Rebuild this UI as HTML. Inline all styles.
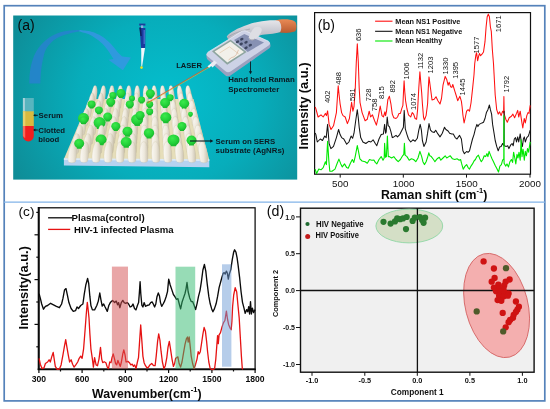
<!DOCTYPE html>
<html><head><meta charset="utf-8"><title>Figure</title>
<style>html,body{margin:0;padding:0;background:#ffffff;}svg{display:block;}text{font-family:"Liberation Sans",sans-serif;}</style>
</head><body>
<svg width="550" height="409" viewBox="0 0 550 409">
<defs>
<radialGradient id="tealbg" gradientUnits="userSpaceOnUse" cx="168" cy="100" r="180" gradientTransform="translate(0,100) scale(1,0.92) translate(0,-100)"><stop offset="0" stop-color="#04bfce"/><stop offset="0.5" stop-color="#07adbb"/><stop offset="1" stop-color="#0f8a94"/></radialGradient>
<linearGradient id="rod" x1="0" x2="1" y1="0" y2="0"><stop offset="0" stop-color="#fbf9f4"/><stop offset="0.55" stop-color="#ede8dc"/><stop offset="1" stop-color="#cbc3b0"/></linearGradient>
<radialGradient id="blob" cx="0.4" cy="0.35" r="0.75"><stop offset="0" stop-color="#3bea4c"/><stop offset="0.6" stop-color="#22d038"/><stop offset="1" stop-color="#14ad28"/></radialGradient>
<linearGradient id="rodshade" x1="0" x2="0" y1="0" y2="1"><stop offset="0.3" stop-color="#a89c78" stop-opacity="0"/><stop offset="1" stop-color="#a89c78" stop-opacity="0.22"/></linearGradient>
<linearGradient id="glove" x1="0" x2="0" y1="0" y2="1"><stop offset="0" stop-color="#e6e6ea"/><stop offset="1" stop-color="#a9abb8"/></linearGradient>
<linearGradient id="skin" x1="0" x2="0" y1="0" y2="1"><stop offset="0" stop-color="#e98a55"/><stop offset="1" stop-color="#b85a30"/></linearGradient>
</defs>
<rect x="0" y="0" width="550" height="409" fill="#ffffff"/>
<rect x="4.2" y="5.7" width="540.6" height="395.2" fill="none" stroke="#5482ba" stroke-width="1.7"/>
<line x1="4" y1="202.1" x2="545" y2="202.1" stroke="#82b3e8" stroke-width="1.1"/>
<g id="panel-a">
<rect x="13.2" y="15.5" width="284" height="164.1" fill="url(#tealbg)"/>
<path d="M29.3,83.5 C29.4,81.5 29.4,75.6 30.0,71.4 C30.6,67.2 31.7,62.5 33.1,58.6 C34.5,54.8 35.9,51.5 38.3,48.3 C40.7,45.0 44.1,41.6 47.3,39.1 C50.5,36.6 53.9,34.6 57.6,33.2 C61.3,31.8 65.7,31.1 69.4,30.6 C73.1,30.1 77.9,30.1 79.6,30.0 L79,31.6 C77.4,31.9 72.7,32.5 69.4,33.4 C66.1,34.3 62.1,35.5 59.1,36.9 C56.1,38.3 53.9,39.9 51.7,42.0 C49.5,44.1 47.4,46.5 45.9,49.4 C44.4,52.3 43.7,55.9 42.9,59.6 C42.1,63.3 41.4,67.4 41.0,71.4 C40.6,75.4 40.4,81.5 40.3,83.5 Z" fill="#2a7fd2" fill-opacity="0.78"/>
<path d="M79.6,30.0 C81.6,30.3 87.7,30.7 91.4,31.7 C95.1,32.7 98.5,34.2 101.7,36.2 C104.9,38.2 107.8,40.8 110.5,43.5 C113.2,46.2 115.8,50.1 117.8,52.3 C119.8,54.5 121.6,55.9 122.4,56.6 L130.9,57.4 L122.9,70.2 L108.5,59.8 L113.6,58.9 C112.3,57.1 108.6,50.9 106.1,47.9 C103.6,44.9 101.4,42.8 98.7,40.6 C96.0,38.4 92.8,36.2 89.9,34.7 C87.0,33.2 82.9,32.4 81.1,31.9 C79.3,31.4 79.3,31.7 79.0,31.6 Z" fill="#3a93e6" fill-opacity="0.8"/>
<g><rect x="139.2" y="23.6" width="6.2" height="2" fill="#1c3d9c"/><rect x="141" y="25.4" width="2.2" height="3" fill="#8fb0e0"/><path d="M139.8,28 L145.4,28 L145.2,48 L141,48 Z" fill="#1b3a9e"/><path d="M139.2,27.5 L141,27.5 L141.8,36 L140.4,36 Z" fill="#101f5c"/><rect x="143.6" y="30" width="1.2" height="14" fill="#4c74d0"/><path d="M141.2,48 L145,48 L142.1,66.5 L141.3,66.5 Z" fill="#f4f6fb"/><circle cx="141.5" cy="67.6" r="1.3" fill="#f2e01c"/></g>
<g><path d="M22.9,98 L33.8,98 L33.8,112 L22.9,112 Z" fill="#b5d5de" fill-opacity="0.45"/><rect x="22.9" y="98" width="2" height="14" fill="#c9dfe6" fill-opacity="0.7"/><rect x="22.9" y="111.3" width="10.9" height="15" fill="#d9b93f"/><rect x="22.9" y="111.3" width="2.4" height="15" fill="#e9d06c"/><path d="M22.9,126 L33.8,126 L33.8,136 A5.45,5.45 0 0 1 22.9,136 Z" fill="#f01e1e"/><path d="M22.9,126 L25.2,126 L25.2,138 A5,5 0 0 1 22.9,136 Z" fill="#f86a5a"/></g>
<line x1="33.8" y1="115.3" x2="37.8" y2="115.3" stroke="#0b1a22" stroke-width="1"/><path d="M33.4,115.3 l2,-1.4 l0,2.8 z" fill="#0b1a22"/>
<line x1="33.8" y1="130" x2="37.8" y2="130" stroke="#0b1a22" stroke-width="1"/><path d="M33.4,130 l2,-1.4 l0,2.8 z" fill="#0b1a22"/>
<text x="38.6" y="117.9" font-size="8" font-weight="bold" fill="#0b1a22" textLength="24.3" lengthAdjust="spacingAndGlyphs">Serum</text>
<text x="38.3" y="133.3" font-size="8" font-weight="bold" fill="#0b1a22" textLength="26.8" lengthAdjust="spacingAndGlyphs">Clotted</text>
<text x="38.3" y="142.3" font-size="8" font-weight="bold" fill="#0b1a22" textLength="21" lengthAdjust="spacingAndGlyphs">blood</text>
<g id="substrate">
<polygon points="89.5,99 193.5,99 209.3,160 63.9,159" fill="#e6deba"/>
<polygon points="63.9,158.7 209.3,159.8 209.3,167.3 63.9,165.6" fill="#b6d2f0"/>
<polygon points="63.9,158.2 209.3,159.2 209.3,161 63.9,160" fill="#dbe9f7"/>
<path d="M91.4,99.5 C91.0,94.6 92.3,89.7 93.7,86.6 C94.4,85.2 95.8,85.2 96.5,86.6 C97.9,89.7 97.1,94.6 96.2,99.5 A2.4,1.1 0 0 1 91.4,99.5 Z" fill="url(#rod)" stroke="#b9ad86" stroke-opacity="0.55" stroke-width="0.35"/>
<path d="M91.4,99.5 C91.0,94.6 92.3,89.7 93.7,86.6 C94.4,85.2 95.8,85.2 96.5,86.6 C97.9,89.7 97.1,94.6 96.2,99.5 A2.4,1.1 0 0 1 91.4,99.5 Z" fill="url(#rodshade)"/>
<path d="M100.1,99.5 C99.7,94.6 100.7,89.7 102.1,86.6 C102.8,85.2 104.2,85.2 104.9,86.6 C106.3,89.7 105.7,94.6 104.9,99.5 A2.4,1.1 0 0 1 100.1,99.5 Z" fill="url(#rod)" stroke="#b9ad86" stroke-opacity="0.55" stroke-width="0.35"/>
<path d="M100.1,99.5 C99.7,94.6 100.7,89.7 102.1,86.6 C102.8,85.2 104.2,85.2 104.9,86.6 C106.3,89.7 105.7,94.6 104.9,99.5 A2.4,1.1 0 0 1 100.1,99.5 Z" fill="url(#rodshade)"/>
<path d="M108.8,99.5 C108.3,94.6 109.2,89.7 110.6,86.6 C111.3,85.2 112.7,85.2 113.4,86.6 C114.8,89.7 114.3,94.6 113.5,99.5 A2.4,1.1 0 0 1 108.8,99.5 Z" fill="url(#rod)" stroke="#b9ad86" stroke-opacity="0.55" stroke-width="0.35"/>
<path d="M108.8,99.5 C108.3,94.6 109.2,89.7 110.6,86.6 C111.3,85.2 112.7,85.2 113.4,86.6 C114.8,89.7 114.3,94.6 113.5,99.5 A2.4,1.1 0 0 1 108.8,99.5 Z" fill="url(#rodshade)"/>
<path d="M117.5,99.5 C116.9,94.6 117.6,89.7 119.0,86.6 C119.7,85.2 121.1,85.2 121.8,86.6 C123.2,89.7 123.0,94.6 122.2,99.5 A2.4,1.1 0 0 1 117.5,99.5 Z" fill="url(#rod)" stroke="#b9ad86" stroke-opacity="0.55" stroke-width="0.35"/>
<path d="M117.5,99.5 C116.9,94.6 117.6,89.7 119.0,86.6 C119.7,85.2 121.1,85.2 121.8,86.6 C123.2,89.7 123.0,94.6 122.2,99.5 A2.4,1.1 0 0 1 117.5,99.5 Z" fill="url(#rodshade)"/>
<path d="M126.1,99.5 C125.6,94.6 126.0,89.7 127.4,86.6 C128.1,85.2 129.5,85.2 130.2,86.6 C131.6,89.7 131.6,94.6 130.9,99.5 A2.4,1.1 0 0 1 126.1,99.5 Z" fill="url(#rod)" stroke="#b9ad86" stroke-opacity="0.55" stroke-width="0.35"/>
<path d="M126.1,99.5 C125.6,94.6 126.0,89.7 127.4,86.6 C128.1,85.2 129.5,85.2 130.2,86.6 C131.6,89.7 131.6,94.6 130.9,99.5 A2.4,1.1 0 0 1 126.1,99.5 Z" fill="url(#rodshade)"/>
<path d="M134.8,99.5 C134.2,94.6 134.4,89.7 135.8,86.6 C136.5,85.2 137.9,85.2 138.6,86.6 C140.0,89.7 140.2,94.6 139.6,99.5 A2.4,1.1 0 0 1 134.8,99.5 Z" fill="url(#rod)" stroke="#b9ad86" stroke-opacity="0.55" stroke-width="0.35"/>
<path d="M134.8,99.5 C134.2,94.6 134.4,89.7 135.8,86.6 C136.5,85.2 137.9,85.2 138.6,86.6 C140.0,89.7 140.2,94.6 139.6,99.5 A2.4,1.1 0 0 1 134.8,99.5 Z" fill="url(#rodshade)"/>
<path d="M143.5,99.5 C142.8,94.6 142.9,89.7 144.3,86.6 C145.0,85.2 146.4,85.2 147.1,86.6 C148.5,89.7 148.9,94.6 148.3,99.5 A2.4,1.1 0 0 1 143.5,99.5 Z" fill="url(#rod)" stroke="#b9ad86" stroke-opacity="0.55" stroke-width="0.35"/>
<path d="M143.5,99.5 C142.8,94.6 142.9,89.7 144.3,86.6 C145.0,85.2 146.4,85.2 147.1,86.6 C148.5,89.7 148.9,94.6 148.3,99.5 A2.4,1.1 0 0 1 143.5,99.5 Z" fill="url(#rodshade)"/>
<path d="M152.2,99.5 C151.4,94.6 151.3,89.7 152.7,86.6 C153.4,85.2 154.8,85.2 155.5,86.6 C156.9,89.7 157.5,94.6 157.0,99.5 A2.4,1.1 0 0 1 152.2,99.5 Z" fill="url(#rod)" stroke="#b9ad86" stroke-opacity="0.55" stroke-width="0.35"/>
<path d="M152.2,99.5 C151.4,94.6 151.3,89.7 152.7,86.6 C153.4,85.2 154.8,85.2 155.5,86.6 C156.9,89.7 157.5,94.6 157.0,99.5 A2.4,1.1 0 0 1 152.2,99.5 Z" fill="url(#rodshade)"/>
<path d="M160.9,99.5 C160.1,94.6 159.7,89.7 161.1,86.6 C161.8,85.2 163.2,85.2 163.9,86.6 C165.3,89.7 166.1,94.6 165.6,99.5 A2.4,1.1 0 0 1 160.9,99.5 Z" fill="url(#rod)" stroke="#b9ad86" stroke-opacity="0.55" stroke-width="0.35"/>
<path d="M160.9,99.5 C160.1,94.6 159.7,89.7 161.1,86.6 C161.8,85.2 163.2,85.2 163.9,86.6 C165.3,89.7 166.1,94.6 165.6,99.5 A2.4,1.1 0 0 1 160.9,99.5 Z" fill="url(#rodshade)"/>
<path d="M169.6,99.5 C168.7,94.6 168.1,89.7 169.5,86.6 C170.2,85.2 171.6,85.2 172.3,86.6 C173.7,89.7 174.8,94.6 174.3,99.5 A2.4,1.1 0 0 1 169.6,99.5 Z" fill="url(#rod)" stroke="#b9ad86" stroke-opacity="0.55" stroke-width="0.35"/>
<path d="M169.6,99.5 C168.7,94.6 168.1,89.7 169.5,86.6 C170.2,85.2 171.6,85.2 172.3,86.6 C173.7,89.7 174.8,94.6 174.3,99.5 A2.4,1.1 0 0 1 169.6,99.5 Z" fill="url(#rodshade)"/>
<path d="M178.2,99.5 C177.3,94.6 176.5,89.7 177.9,86.6 C178.6,85.2 180.0,85.2 180.7,86.6 C182.1,89.7 183.4,94.6 183.0,99.5 A2.4,1.1 0 0 1 178.2,99.5 Z" fill="url(#rod)" stroke="#b9ad86" stroke-opacity="0.55" stroke-width="0.35"/>
<path d="M178.2,99.5 C177.3,94.6 176.5,89.7 177.9,86.6 C178.6,85.2 180.0,85.2 180.7,86.6 C182.1,89.7 183.4,94.6 183.0,99.5 A2.4,1.1 0 0 1 178.2,99.5 Z" fill="url(#rodshade)"/>
<path d="M186.9,99.5 C186.0,94.6 185.0,89.7 186.4,86.6 C187.1,85.2 188.5,85.2 189.2,86.6 C190.6,89.7 192.0,94.6 191.7,99.5 A2.4,1.1 0 0 1 186.9,99.5 Z" fill="url(#rod)" stroke="#b9ad86" stroke-opacity="0.55" stroke-width="0.35"/>
<path d="M186.9,99.5 C186.0,94.6 185.0,89.7 186.4,86.6 C187.1,85.2 188.5,85.2 189.2,86.6 C190.6,89.7 192.0,94.6 191.7,99.5 A2.4,1.1 0 0 1 186.9,99.5 Z" fill="url(#rodshade)"/>
<path d="M88.3,107.8 C87.9,102.6 89.3,97.4 90.8,94.2 C91.5,92.7 93.0,92.7 93.8,94.2 C95.3,97.4 94.4,102.6 93.4,107.8 A2.6,1.2 0 0 1 88.3,107.8 Z" fill="url(#rod)" stroke="#b9ad86" stroke-opacity="0.55" stroke-width="0.35"/>
<path d="M88.3,107.8 C87.9,102.6 89.3,97.4 90.8,94.2 C91.5,92.7 93.0,92.7 93.8,94.2 C95.3,97.4 94.4,102.6 93.4,107.8 A2.6,1.2 0 0 1 88.3,107.8 Z" fill="url(#rodshade)"/>
<path d="M97.4,107.8 C97.0,102.6 98.1,97.4 99.6,94.2 C100.4,92.7 101.9,92.7 102.6,94.2 C104.1,97.4 103.5,102.6 102.5,107.8 A2.6,1.2 0 0 1 97.4,107.8 Z" fill="url(#rod)" stroke="#b9ad86" stroke-opacity="0.55" stroke-width="0.35"/>
<path d="M97.4,107.8 C97.0,102.6 98.1,97.4 99.6,94.2 C100.4,92.7 101.9,92.7 102.6,94.2 C104.1,97.4 103.5,102.6 102.5,107.8 A2.6,1.2 0 0 1 97.4,107.8 Z" fill="url(#rodshade)"/>
<path d="M106.6,107.8 C106.1,102.6 107.0,97.4 108.5,94.2 C109.2,92.7 110.7,92.7 111.5,94.2 C113.0,97.4 112.5,102.6 111.7,107.8 A2.6,1.2 0 0 1 106.6,107.8 Z" fill="url(#rod)" stroke="#b9ad86" stroke-opacity="0.55" stroke-width="0.35"/>
<path d="M106.6,107.8 C106.1,102.6 107.0,97.4 108.5,94.2 C109.2,92.7 110.7,92.7 111.5,94.2 C113.0,97.4 112.5,102.6 111.7,107.8 A2.6,1.2 0 0 1 106.6,107.8 Z" fill="url(#rodshade)"/>
<path d="M115.7,107.8 C115.1,102.6 115.8,97.4 117.3,94.2 C118.1,92.7 119.6,92.7 120.3,94.2 C121.8,97.4 121.6,102.6 120.8,107.8 A2.6,1.2 0 0 1 115.7,107.8 Z" fill="url(#rod)" stroke="#b9ad86" stroke-opacity="0.55" stroke-width="0.35"/>
<path d="M115.7,107.8 C115.1,102.6 115.8,97.4 117.3,94.2 C118.1,92.7 119.6,92.7 120.3,94.2 C121.8,97.4 121.6,102.6 120.8,107.8 A2.6,1.2 0 0 1 115.7,107.8 Z" fill="url(#rodshade)"/>
<path d="M124.8,107.8 C124.2,102.6 124.7,97.4 126.2,94.2 C126.9,92.7 128.4,92.7 129.2,94.2 C130.7,97.4 130.7,102.6 129.9,107.8 A2.6,1.2 0 0 1 124.8,107.8 Z" fill="url(#rod)" stroke="#b9ad86" stroke-opacity="0.55" stroke-width="0.35"/>
<path d="M124.8,107.8 C124.2,102.6 124.7,97.4 126.2,94.2 C126.9,92.7 128.4,92.7 129.2,94.2 C130.7,97.4 130.7,102.6 129.9,107.8 A2.6,1.2 0 0 1 124.8,107.8 Z" fill="url(#rodshade)"/>
<path d="M134.0,107.8 C133.3,102.6 133.5,97.4 135.0,94.2 C135.8,92.7 137.3,92.7 138.0,94.2 C139.5,97.4 139.8,102.6 139.1,107.8 A2.6,1.2 0 0 1 134.0,107.8 Z" fill="url(#rod)" stroke="#b9ad86" stroke-opacity="0.55" stroke-width="0.35"/>
<path d="M134.0,107.8 C133.3,102.6 133.5,97.4 135.0,94.2 C135.8,92.7 137.3,92.7 138.0,94.2 C139.5,97.4 139.8,102.6 139.1,107.8 A2.6,1.2 0 0 1 134.0,107.8 Z" fill="url(#rodshade)"/>
<path d="M143.1,107.8 C142.3,102.6 142.4,97.4 143.9,94.2 C144.7,92.7 146.2,92.7 146.9,94.2 C148.4,97.4 148.8,102.6 148.2,107.8 A2.6,1.2 0 0 1 143.1,107.8 Z" fill="url(#rod)" stroke="#b9ad86" stroke-opacity="0.55" stroke-width="0.35"/>
<path d="M143.1,107.8 C142.3,102.6 142.4,97.4 143.9,94.2 C144.7,92.7 146.2,92.7 146.9,94.2 C148.4,97.4 148.8,102.6 148.2,107.8 A2.6,1.2 0 0 1 143.1,107.8 Z" fill="url(#rodshade)"/>
<path d="M152.2,107.8 C151.4,102.6 151.3,97.4 152.8,94.2 C153.5,92.7 155.0,92.7 155.8,94.2 C157.3,97.4 157.9,102.6 157.3,107.8 A2.6,1.2 0 0 1 152.2,107.8 Z" fill="url(#rod)" stroke="#b9ad86" stroke-opacity="0.55" stroke-width="0.35"/>
<path d="M152.2,107.8 C151.4,102.6 151.3,97.4 152.8,94.2 C153.5,92.7 155.0,92.7 155.8,94.2 C157.3,97.4 157.9,102.6 157.3,107.8 A2.6,1.2 0 0 1 152.2,107.8 Z" fill="url(#rodshade)"/>
<path d="M161.3,107.8 C160.5,102.6 160.1,97.4 161.6,94.2 C162.4,92.7 163.9,92.7 164.6,94.2 C166.1,97.4 167.0,102.6 166.4,107.8 A2.6,1.2 0 0 1 161.3,107.8 Z" fill="url(#rod)" stroke="#b9ad86" stroke-opacity="0.55" stroke-width="0.35"/>
<path d="M161.3,107.8 C160.5,102.6 160.1,97.4 161.6,94.2 C162.4,92.7 163.9,92.7 164.6,94.2 C166.1,97.4 167.0,102.6 166.4,107.8 A2.6,1.2 0 0 1 161.3,107.8 Z" fill="url(#rodshade)"/>
<path d="M170.5,107.8 C169.6,102.6 169.0,97.4 170.5,94.2 C171.2,92.7 172.7,92.7 173.5,94.2 C175.0,97.4 176.0,102.6 175.6,107.8 A2.6,1.2 0 0 1 170.5,107.8 Z" fill="url(#rod)" stroke="#b9ad86" stroke-opacity="0.55" stroke-width="0.35"/>
<path d="M170.5,107.8 C169.6,102.6 169.0,97.4 170.5,94.2 C171.2,92.7 172.7,92.7 173.5,94.2 C175.0,97.4 176.0,102.6 175.6,107.8 A2.6,1.2 0 0 1 170.5,107.8 Z" fill="url(#rodshade)"/>
<path d="M179.6,107.8 C178.6,102.6 177.8,97.4 179.3,94.2 C180.1,92.7 181.6,92.7 182.3,94.2 C183.8,97.4 185.1,102.6 184.7,107.8 A2.6,1.2 0 0 1 179.6,107.8 Z" fill="url(#rod)" stroke="#b9ad86" stroke-opacity="0.55" stroke-width="0.35"/>
<path d="M179.6,107.8 C178.6,102.6 177.8,97.4 179.3,94.2 C180.1,92.7 181.6,92.7 182.3,94.2 C183.8,97.4 185.1,102.6 184.7,107.8 A2.6,1.2 0 0 1 179.6,107.8 Z" fill="url(#rodshade)"/>
<path d="M188.7,107.8 C187.7,102.6 186.7,97.4 188.2,94.2 C188.9,92.7 190.4,92.7 191.2,94.2 C192.7,97.4 194.2,102.6 193.8,107.8 A2.6,1.2 0 0 1 188.7,107.8 Z" fill="url(#rod)" stroke="#b9ad86" stroke-opacity="0.55" stroke-width="0.35"/>
<path d="M188.7,107.8 C187.7,102.6 186.7,97.4 188.2,94.2 C188.9,92.7 190.4,92.7 191.2,94.2 C192.7,97.4 194.2,102.6 193.8,107.8 A2.6,1.2 0 0 1 188.7,107.8 Z" fill="url(#rodshade)"/>
<path d="M118.4,94.5 L118.9,97.9 L122.9,97.9 L123.4,94.5 Z" fill="#1cc231"/>
<ellipse cx="120.9" cy="93.2" rx="4.5" ry="4.2" fill="url(#blob)"/>
<path d="M111.0,96.5 L111.3,99.1 L114.5,99.1 L114.8,96.5 Z" fill="#1cc231"/>
<ellipse cx="112.9" cy="95.4" rx="3.5" ry="3.3" fill="url(#blob)"/>
<path d="M130.3,99.3 L130.7,101.6 L133.3,101.6 L133.7,99.3 Z" fill="#1cc231"/>
<ellipse cx="132.0" cy="98.4" rx="3.0" ry="2.8" fill="url(#blob)"/>
<path d="M147.9,94.8 L148.4,98.2 L152.4,98.2 L152.9,94.8 Z" fill="#1cc231"/>
<ellipse cx="150.4" cy="93.5" rx="4.5" ry="4.2" fill="url(#blob)"/>
<path d="M168.3,98.6 L168.6,101.3 L171.8,101.3 L172.1,98.6 Z" fill="#1cc231"/>
<ellipse cx="170.2" cy="97.6" rx="3.5" ry="3.3" fill="url(#blob)"/>
<path d="M85.2,116.0 C84.8,110.6 86.2,105.2 87.8,101.7 C88.6,100.2 90.2,100.2 91.0,101.7 C92.6,105.2 91.7,110.6 90.7,116.0 A2.7,1.3 0 0 1 85.2,116.0 Z" fill="url(#rod)" stroke="#b9ad86" stroke-opacity="0.55" stroke-width="0.35"/>
<path d="M85.2,116.0 C84.8,110.6 86.2,105.2 87.8,101.7 C88.6,100.2 90.2,100.2 91.0,101.7 C92.6,105.2 91.7,110.6 90.7,116.0 A2.7,1.3 0 0 1 85.2,116.0 Z" fill="url(#rodshade)"/>
<path d="M94.8,116.0 C94.3,110.6 95.5,105.2 97.1,101.7 C97.9,100.2 99.5,100.2 100.3,101.7 C101.9,105.2 101.2,110.6 100.2,116.0 A2.7,1.3 0 0 1 94.8,116.0 Z" fill="url(#rod)" stroke="#b9ad86" stroke-opacity="0.55" stroke-width="0.35"/>
<path d="M94.8,116.0 C94.3,110.6 95.5,105.2 97.1,101.7 C97.9,100.2 99.5,100.2 100.3,101.7 C101.9,105.2 101.2,110.6 100.2,116.0 A2.7,1.3 0 0 1 94.8,116.0 Z" fill="url(#rodshade)"/>
<path d="M104.4,116.0 C103.8,110.6 104.8,105.2 106.4,101.7 C107.2,100.2 108.8,100.2 109.6,101.7 C111.2,105.2 110.7,110.6 109.8,116.0 A2.7,1.3 0 0 1 104.4,116.0 Z" fill="url(#rod)" stroke="#b9ad86" stroke-opacity="0.55" stroke-width="0.35"/>
<path d="M104.4,116.0 C103.8,110.6 104.8,105.2 106.4,101.7 C107.2,100.2 108.8,100.2 109.6,101.7 C111.2,105.2 110.7,110.6 109.8,116.0 A2.7,1.3 0 0 1 104.4,116.0 Z" fill="url(#rodshade)"/>
<path d="M113.9,116.0 C113.3,110.6 114.1,105.2 115.7,101.7 C116.5,100.2 118.1,100.2 118.9,101.7 C120.5,105.2 120.2,110.6 119.4,116.0 A2.7,1.3 0 0 1 113.9,116.0 Z" fill="url(#rod)" stroke="#b9ad86" stroke-opacity="0.55" stroke-width="0.35"/>
<path d="M113.9,116.0 C113.3,110.6 114.1,105.2 115.7,101.7 C116.5,100.2 118.1,100.2 118.9,101.7 C120.5,105.2 120.2,110.6 119.4,116.0 A2.7,1.3 0 0 1 113.9,116.0 Z" fill="url(#rodshade)"/>
<path d="M123.5,116.0 C122.8,110.6 123.4,105.2 125.0,101.7 C125.8,100.2 127.4,100.2 128.2,101.7 C129.8,105.2 129.8,110.6 128.9,116.0 A2.7,1.3 0 0 1 123.5,116.0 Z" fill="url(#rod)" stroke="#b9ad86" stroke-opacity="0.55" stroke-width="0.35"/>
<path d="M123.5,116.0 C122.8,110.6 123.4,105.2 125.0,101.7 C125.8,100.2 127.4,100.2 128.2,101.7 C129.8,105.2 129.8,110.6 128.9,116.0 A2.7,1.3 0 0 1 123.5,116.0 Z" fill="url(#rodshade)"/>
<path d="M133.1,116.0 C132.4,110.6 132.7,105.2 134.3,101.7 C135.1,100.2 136.7,100.2 137.5,101.7 C139.1,105.2 139.3,110.6 138.5,116.0 A2.7,1.3 0 0 1 133.1,116.0 Z" fill="url(#rod)" stroke="#b9ad86" stroke-opacity="0.55" stroke-width="0.35"/>
<path d="M133.1,116.0 C132.4,110.6 132.7,105.2 134.3,101.7 C135.1,100.2 136.7,100.2 137.5,101.7 C139.1,105.2 139.3,110.6 138.5,116.0 A2.7,1.3 0 0 1 133.1,116.0 Z" fill="url(#rodshade)"/>
<path d="M142.7,116.0 C141.9,110.6 141.9,105.2 143.6,101.7 C144.4,100.2 146.0,100.2 146.8,101.7 C148.4,105.2 148.8,110.6 148.1,116.0 A2.7,1.3 0 0 1 142.7,116.0 Z" fill="url(#rod)" stroke="#b9ad86" stroke-opacity="0.55" stroke-width="0.35"/>
<path d="M142.7,116.0 C141.9,110.6 141.9,105.2 143.6,101.7 C144.4,100.2 146.0,100.2 146.8,101.7 C148.4,105.2 148.8,110.6 148.1,116.0 A2.7,1.3 0 0 1 142.7,116.0 Z" fill="url(#rodshade)"/>
<path d="M152.2,116.0 C151.4,110.6 151.2,105.2 152.8,101.7 C153.6,100.2 155.2,100.2 156.0,101.7 C157.6,105.2 158.3,110.6 157.7,116.0 A2.7,1.3 0 0 1 152.2,116.0 Z" fill="url(#rod)" stroke="#b9ad86" stroke-opacity="0.55" stroke-width="0.35"/>
<path d="M152.2,116.0 C151.4,110.6 151.2,105.2 152.8,101.7 C153.6,100.2 155.2,100.2 156.0,101.7 C157.6,105.2 158.3,110.6 157.7,116.0 A2.7,1.3 0 0 1 152.2,116.0 Z" fill="url(#rodshade)"/>
<path d="M161.8,116.0 C160.9,110.6 160.5,105.2 162.1,101.7 C162.9,100.2 164.5,100.2 165.3,101.7 C166.9,105.2 167.8,110.6 167.2,116.0 A2.7,1.3 0 0 1 161.8,116.0 Z" fill="url(#rod)" stroke="#b9ad86" stroke-opacity="0.55" stroke-width="0.35"/>
<path d="M161.8,116.0 C160.9,110.6 160.5,105.2 162.1,101.7 C162.9,100.2 164.5,100.2 165.3,101.7 C166.9,105.2 167.8,110.6 167.2,116.0 A2.7,1.3 0 0 1 161.8,116.0 Z" fill="url(#rodshade)"/>
<path d="M171.4,116.0 C170.4,110.6 169.8,105.2 171.4,101.7 C172.2,100.2 173.8,100.2 174.6,101.7 C176.2,105.2 177.3,110.6 176.8,116.0 A2.7,1.3 0 0 1 171.4,116.0 Z" fill="url(#rod)" stroke="#b9ad86" stroke-opacity="0.55" stroke-width="0.35"/>
<path d="M171.4,116.0 C170.4,110.6 169.8,105.2 171.4,101.7 C172.2,100.2 173.8,100.2 174.6,101.7 C176.2,105.2 177.3,110.6 176.8,116.0 A2.7,1.3 0 0 1 171.4,116.0 Z" fill="url(#rodshade)"/>
<path d="M180.9,116.0 C179.9,110.6 179.1,105.2 180.7,101.7 C181.5,100.2 183.1,100.2 183.9,101.7 C185.5,105.2 186.8,110.6 186.4,116.0 A2.7,1.3 0 0 1 180.9,116.0 Z" fill="url(#rod)" stroke="#b9ad86" stroke-opacity="0.55" stroke-width="0.35"/>
<path d="M180.9,116.0 C179.9,110.6 179.1,105.2 180.7,101.7 C181.5,100.2 183.1,100.2 183.9,101.7 C185.5,105.2 186.8,110.6 186.4,116.0 A2.7,1.3 0 0 1 180.9,116.0 Z" fill="url(#rodshade)"/>
<path d="M190.5,116.0 C189.4,110.6 188.4,105.2 190.0,101.7 C190.8,100.2 192.4,100.2 193.2,101.7 C194.8,105.2 196.4,110.6 196.0,116.0 A2.7,1.3 0 0 1 190.5,116.0 Z" fill="url(#rod)" stroke="#b9ad86" stroke-opacity="0.55" stroke-width="0.35"/>
<path d="M190.5,116.0 C189.4,110.6 188.4,105.2 190.0,101.7 C190.8,100.2 192.4,100.2 193.2,101.7 C194.8,105.2 196.4,110.6 196.0,116.0 A2.7,1.3 0 0 1 190.5,116.0 Z" fill="url(#rodshade)"/>
<path d="M108.2,103.3 L108.7,106.7 L112.7,106.7 L113.2,103.3 Z" fill="#1cc231"/>
<ellipse cx="110.7" cy="102.0" rx="4.5" ry="4.2" fill="url(#blob)"/>
<path d="M127.6,105.4 L128.0,108.4 L131.6,108.4 L132.0,105.4 Z" fill="#1cc231"/>
<ellipse cx="129.8" cy="104.2" rx="4.0" ry="3.7" fill="url(#blob)"/>
<path d="M89.4,105.4 L89.8,108.4 L93.4,108.4 L93.8,105.4 Z" fill="#1cc231"/>
<ellipse cx="91.6" cy="104.2" rx="4.0" ry="3.7" fill="url(#blob)"/>
<path d="M139.7,100.8 L140.0,103.5 L143.2,103.5 L143.5,100.8 Z" fill="#1cc231"/>
<ellipse cx="141.6" cy="99.8" rx="3.5" ry="3.3" fill="url(#blob)"/>
<path d="M162.3,104.3 L162.8,108.0 L167.3,108.0 L167.8,104.3 Z" fill="#1cc231"/>
<ellipse cx="165.1" cy="102.8" rx="5.0" ry="4.7" fill="url(#blob)"/>
<path d="M181.4,105.0 L181.9,108.8 L186.4,108.8 L186.9,105.0 Z" fill="#1cc231"/>
<ellipse cx="184.2" cy="103.5" rx="5.0" ry="4.7" fill="url(#blob)"/>
<path d="M147.8,105.2 L148.1,107.9 L151.3,107.9 L151.6,105.2 Z" fill="#1cc231"/>
<ellipse cx="149.7" cy="104.2" rx="3.5" ry="3.3" fill="url(#blob)"/>
<path d="M81.9,124.8 C81.4,119.1 83.0,113.4 84.7,109.8 C85.5,108.2 87.3,108.2 88.1,109.8 C89.8,113.4 88.8,119.1 87.7,124.8 A2.9,1.4 0 0 1 81.9,124.8 Z" fill="url(#rod)" stroke="#b9ad86" stroke-opacity="0.55" stroke-width="0.35"/>
<path d="M81.9,124.8 C81.4,119.1 83.0,113.4 84.7,109.8 C85.5,108.2 87.3,108.2 88.1,109.8 C89.8,113.4 88.8,119.1 87.7,124.8 A2.9,1.4 0 0 1 81.9,124.8 Z" fill="url(#rodshade)"/>
<path d="M92.0,124.8 C91.4,119.1 92.7,113.4 94.4,109.8 C95.3,108.2 97.0,108.2 97.9,109.8 C99.6,113.4 98.8,119.1 97.8,124.8 A2.9,1.4 0 0 1 92.0,124.8 Z" fill="url(#rod)" stroke="#b9ad86" stroke-opacity="0.55" stroke-width="0.35"/>
<path d="M92.0,124.8 C91.4,119.1 92.7,113.4 94.4,109.8 C95.3,108.2 97.0,108.2 97.9,109.8 C99.6,113.4 98.8,119.1 97.8,124.8 A2.9,1.4 0 0 1 92.0,124.8 Z" fill="url(#rodshade)"/>
<path d="M102.0,124.8 C101.4,119.1 102.5,113.4 104.2,109.8 C105.0,108.2 106.7,108.2 107.6,109.8 C109.3,113.4 108.8,119.1 107.8,124.8 A2.9,1.4 0 0 1 102.0,124.8 Z" fill="url(#rod)" stroke="#b9ad86" stroke-opacity="0.55" stroke-width="0.35"/>
<path d="M102.0,124.8 C101.4,119.1 102.5,113.4 104.2,109.8 C105.0,108.2 106.7,108.2 107.6,109.8 C109.3,113.4 108.8,119.1 107.8,124.8 A2.9,1.4 0 0 1 102.0,124.8 Z" fill="url(#rodshade)"/>
<path d="M112.0,124.8 C111.4,119.1 112.2,113.4 113.9,109.8 C114.8,108.2 116.5,108.2 117.4,109.8 C119.1,113.4 118.8,119.1 117.9,124.8 A2.9,1.4 0 0 1 112.0,124.8 Z" fill="url(#rod)" stroke="#b9ad86" stroke-opacity="0.55" stroke-width="0.35"/>
<path d="M112.0,124.8 C111.4,119.1 112.2,113.4 113.9,109.8 C114.8,108.2 116.5,108.2 117.4,109.8 C119.1,113.4 118.8,119.1 117.9,124.8 A2.9,1.4 0 0 1 112.0,124.8 Z" fill="url(#rodshade)"/>
<path d="M122.1,124.8 C121.4,119.1 122.0,113.4 123.7,109.8 C124.5,108.2 126.2,108.2 127.1,109.8 C128.8,113.4 128.8,119.1 127.9,124.8 A2.9,1.4 0 0 1 122.1,124.8 Z" fill="url(#rod)" stroke="#b9ad86" stroke-opacity="0.55" stroke-width="0.35"/>
<path d="M122.1,124.8 C121.4,119.1 122.0,113.4 123.7,109.8 C124.5,108.2 126.2,108.2 127.1,109.8 C128.8,113.4 128.8,119.1 127.9,124.8 A2.9,1.4 0 0 1 122.1,124.8 Z" fill="url(#rodshade)"/>
<path d="M132.1,124.8 C131.4,119.1 131.7,113.4 133.4,109.8 C134.3,108.2 136.0,108.2 136.8,109.8 C138.6,113.4 138.8,119.1 138.0,124.8 A2.9,1.4 0 0 1 132.1,124.8 Z" fill="url(#rod)" stroke="#b9ad86" stroke-opacity="0.55" stroke-width="0.35"/>
<path d="M132.1,124.8 C131.4,119.1 131.7,113.4 133.4,109.8 C134.3,108.2 136.0,108.2 136.8,109.8 C138.6,113.4 138.8,119.1 138.0,124.8 A2.9,1.4 0 0 1 132.1,124.8 Z" fill="url(#rodshade)"/>
<path d="M142.2,124.8 C141.4,119.1 141.5,113.4 143.2,109.8 C144.0,108.2 145.7,108.2 146.6,109.8 C148.3,113.4 148.7,119.1 148.0,124.8 A2.9,1.4 0 0 1 142.2,124.8 Z" fill="url(#rod)" stroke="#b9ad86" stroke-opacity="0.55" stroke-width="0.35"/>
<path d="M142.2,124.8 C141.4,119.1 141.5,113.4 143.2,109.8 C144.0,108.2 145.7,108.2 146.6,109.8 C148.3,113.4 148.7,119.1 148.0,124.8 A2.9,1.4 0 0 1 142.2,124.8 Z" fill="url(#rodshade)"/>
<path d="M152.2,124.8 C151.4,119.1 151.2,113.4 152.9,109.8 C153.8,108.2 155.5,108.2 156.3,109.8 C158.0,113.4 158.7,119.1 158.0,124.8 A2.9,1.4 0 0 1 152.2,124.8 Z" fill="url(#rod)" stroke="#b9ad86" stroke-opacity="0.55" stroke-width="0.35"/>
<path d="M152.2,124.8 C151.4,119.1 151.2,113.4 152.9,109.8 C153.8,108.2 155.5,108.2 156.3,109.8 C158.0,113.4 158.7,119.1 158.0,124.8 A2.9,1.4 0 0 1 152.2,124.8 Z" fill="url(#rodshade)"/>
<path d="M162.3,124.8 C161.3,119.1 161.0,113.4 162.7,109.8 C163.5,108.2 165.2,108.2 166.1,109.8 C167.8,113.4 168.7,119.1 168.1,124.8 A2.9,1.4 0 0 1 162.3,124.8 Z" fill="url(#rod)" stroke="#b9ad86" stroke-opacity="0.55" stroke-width="0.35"/>
<path d="M162.3,124.8 C161.3,119.1 161.0,113.4 162.7,109.8 C163.5,108.2 165.2,108.2 166.1,109.8 C167.8,113.4 168.7,119.1 168.1,124.8 A2.9,1.4 0 0 1 162.3,124.8 Z" fill="url(#rodshade)"/>
<path d="M172.3,124.8 C171.3,119.1 170.7,113.4 172.4,109.8 C173.3,108.2 175.0,108.2 175.8,109.8 C177.5,113.4 178.7,119.1 178.1,124.8 A2.9,1.4 0 0 1 172.3,124.8 Z" fill="url(#rod)" stroke="#b9ad86" stroke-opacity="0.55" stroke-width="0.35"/>
<path d="M172.3,124.8 C171.3,119.1 170.7,113.4 172.4,109.8 C173.3,108.2 175.0,108.2 175.8,109.8 C177.5,113.4 178.7,119.1 178.1,124.8 A2.9,1.4 0 0 1 172.3,124.8 Z" fill="url(#rodshade)"/>
<path d="M182.4,124.8 C181.3,119.1 180.5,113.4 182.2,109.8 C183.0,108.2 184.7,108.2 185.6,109.8 C187.3,113.4 188.7,119.1 188.2,124.8 A2.9,1.4 0 0 1 182.4,124.8 Z" fill="url(#rod)" stroke="#b9ad86" stroke-opacity="0.55" stroke-width="0.35"/>
<path d="M182.4,124.8 C181.3,119.1 180.5,113.4 182.2,109.8 C183.0,108.2 184.7,108.2 185.6,109.8 C187.3,113.4 188.7,119.1 188.2,124.8 A2.9,1.4 0 0 1 182.4,124.8 Z" fill="url(#rodshade)"/>
<path d="M192.4,124.8 C191.3,119.1 190.2,113.4 191.9,109.8 C192.8,108.2 194.5,108.2 195.3,109.8 C197.0,113.4 198.7,119.1 198.2,124.8 A2.9,1.4 0 0 1 192.4,124.8 Z" fill="url(#rod)" stroke="#b9ad86" stroke-opacity="0.55" stroke-width="0.35"/>
<path d="M192.4,124.8 C191.3,119.1 190.2,113.4 191.9,109.8 C192.8,108.2 194.5,108.2 195.3,109.8 C197.0,113.4 198.7,119.1 198.2,124.8 A2.9,1.4 0 0 1 192.4,124.8 Z" fill="url(#rodshade)"/>
<path d="M96.7,111.3 L97.1,114.3 L100.7,114.3 L101.1,111.3 Z" fill="#1cc231"/>
<ellipse cx="98.9" cy="110.1" rx="4.0" ry="3.7" fill="url(#blob)"/>
<path d="M147.8,112.6 L148.1,115.3 L151.3,115.3 L151.6,112.6 Z" fill="#1cc231"/>
<ellipse cx="149.7" cy="111.6" rx="3.5" ry="3.3" fill="url(#blob)"/>
<path d="M189.1,114.8 L189.4,116.7 L191.6,116.7 L191.9,114.8 Z" fill="#1cc231"/>
<ellipse cx="190.5" cy="114.1" rx="2.5" ry="2.3" fill="url(#blob)"/>
<path d="M78.6,133.6 C78.1,127.6 79.7,121.6 81.6,117.9 C82.5,116.2 84.3,116.2 85.2,117.9 C87.0,121.6 85.9,127.6 84.8,133.6 A3.1,1.5 0 0 1 78.6,133.6 Z" fill="url(#rod)" stroke="#b9ad86" stroke-opacity="0.55" stroke-width="0.35"/>
<path d="M78.6,133.6 C78.1,127.6 79.7,121.6 81.6,117.9 C82.5,116.2 84.3,116.2 85.2,117.9 C87.0,121.6 85.9,127.6 84.8,133.6 A3.1,1.5 0 0 1 78.6,133.6 Z" fill="url(#rodshade)"/>
<path d="M89.1,133.6 C88.6,127.6 89.9,121.6 91.8,117.9 C92.7,116.2 94.5,116.2 95.4,117.9 C97.2,121.6 96.4,127.6 95.3,133.6 A3.1,1.5 0 0 1 89.1,133.6 Z" fill="url(#rod)" stroke="#b9ad86" stroke-opacity="0.55" stroke-width="0.35"/>
<path d="M89.1,133.6 C88.6,127.6 89.9,121.6 91.8,117.9 C92.7,116.2 94.5,116.2 95.4,117.9 C97.2,121.6 96.4,127.6 95.3,133.6 A3.1,1.5 0 0 1 89.1,133.6 Z" fill="url(#rodshade)"/>
<path d="M99.6,133.6 C99.0,127.6 100.2,121.6 102.0,117.9 C102.9,116.2 104.7,116.2 105.6,117.9 C107.4,121.6 106.9,127.6 105.8,133.6 A3.1,1.5 0 0 1 99.6,133.6 Z" fill="url(#rod)" stroke="#b9ad86" stroke-opacity="0.55" stroke-width="0.35"/>
<path d="M99.6,133.6 C99.0,127.6 100.2,121.6 102.0,117.9 C102.9,116.2 104.7,116.2 105.6,117.9 C107.4,121.6 106.9,127.6 105.8,133.6 A3.1,1.5 0 0 1 99.6,133.6 Z" fill="url(#rodshade)"/>
<path d="M110.2,133.6 C109.5,127.6 110.4,121.6 112.2,117.9 C113.1,116.2 114.9,116.2 115.8,117.9 C117.6,121.6 117.3,127.6 116.3,133.6 A3.1,1.5 0 0 1 110.2,133.6 Z" fill="url(#rod)" stroke="#b9ad86" stroke-opacity="0.55" stroke-width="0.35"/>
<path d="M110.2,133.6 C109.5,127.6 110.4,121.6 112.2,117.9 C113.1,116.2 114.9,116.2 115.8,117.9 C117.6,121.6 117.3,127.6 116.3,133.6 A3.1,1.5 0 0 1 110.2,133.6 Z" fill="url(#rodshade)"/>
<path d="M120.7,133.6 C119.9,127.6 120.6,121.6 122.4,117.9 C123.3,116.2 125.1,116.2 126.0,117.9 C127.8,121.6 127.8,127.6 126.9,133.6 A3.1,1.5 0 0 1 120.7,133.6 Z" fill="url(#rod)" stroke="#b9ad86" stroke-opacity="0.55" stroke-width="0.35"/>
<path d="M120.7,133.6 C119.9,127.6 120.6,121.6 122.4,117.9 C123.3,116.2 125.1,116.2 126.0,117.9 C127.8,121.6 127.8,127.6 126.9,133.6 A3.1,1.5 0 0 1 120.7,133.6 Z" fill="url(#rodshade)"/>
<path d="M131.2,133.6 C130.4,127.6 130.8,121.6 132.6,117.9 C133.5,116.2 135.3,116.2 136.2,117.9 C138.0,121.6 138.2,127.6 137.4,133.6 A3.1,1.5 0 0 1 131.2,133.6 Z" fill="url(#rod)" stroke="#b9ad86" stroke-opacity="0.55" stroke-width="0.35"/>
<path d="M131.2,133.6 C130.4,127.6 130.8,121.6 132.6,117.9 C133.5,116.2 135.3,116.2 136.2,117.9 C138.0,121.6 138.2,127.6 137.4,133.6 A3.1,1.5 0 0 1 131.2,133.6 Z" fill="url(#rodshade)"/>
<path d="M141.7,133.6 C140.9,127.6 141.0,121.6 142.8,117.9 C143.7,116.2 145.5,116.2 146.4,117.9 C148.2,121.6 148.7,127.6 147.9,133.6 A3.1,1.5 0 0 1 141.7,133.6 Z" fill="url(#rod)" stroke="#b9ad86" stroke-opacity="0.55" stroke-width="0.35"/>
<path d="M141.7,133.6 C140.9,127.6 141.0,121.6 142.8,117.9 C143.7,116.2 145.5,116.2 146.4,117.9 C148.2,121.6 148.7,127.6 147.9,133.6 A3.1,1.5 0 0 1 141.7,133.6 Z" fill="url(#rodshade)"/>
<path d="M152.3,133.6 C151.3,127.6 151.2,121.6 153.0,117.9 C153.9,116.2 155.7,116.2 156.6,117.9 C158.5,121.6 159.2,127.6 158.4,133.6 A3.1,1.5 0 0 1 152.3,133.6 Z" fill="url(#rod)" stroke="#b9ad86" stroke-opacity="0.55" stroke-width="0.35"/>
<path d="M152.3,133.6 C151.3,127.6 151.2,121.6 153.0,117.9 C153.9,116.2 155.7,116.2 156.6,117.9 C158.5,121.6 159.2,127.6 158.4,133.6 A3.1,1.5 0 0 1 152.3,133.6 Z" fill="url(#rodshade)"/>
<path d="M162.8,133.6 C161.8,127.6 161.4,121.6 163.2,117.9 C164.1,116.2 165.9,116.2 166.8,117.9 C168.7,121.6 169.6,127.6 169.0,133.6 A3.1,1.5 0 0 1 162.8,133.6 Z" fill="url(#rod)" stroke="#b9ad86" stroke-opacity="0.55" stroke-width="0.35"/>
<path d="M162.8,133.6 C161.8,127.6 161.4,121.6 163.2,117.9 C164.1,116.2 165.9,116.2 166.8,117.9 C168.7,121.6 169.6,127.6 169.0,133.6 A3.1,1.5 0 0 1 162.8,133.6 Z" fill="url(#rodshade)"/>
<path d="M173.3,133.6 C172.2,127.6 171.6,121.6 173.4,117.9 C174.3,116.2 176.1,116.2 177.1,117.9 C178.9,121.6 180.1,127.6 179.5,133.6 A3.1,1.5 0 0 1 173.3,133.6 Z" fill="url(#rod)" stroke="#b9ad86" stroke-opacity="0.55" stroke-width="0.35"/>
<path d="M173.3,133.6 C172.2,127.6 171.6,121.6 173.4,117.9 C174.3,116.2 176.1,116.2 177.1,117.9 C178.9,121.6 180.1,127.6 179.5,133.6 A3.1,1.5 0 0 1 173.3,133.6 Z" fill="url(#rodshade)"/>
<path d="M183.8,133.6 C182.7,127.6 181.8,121.6 183.6,117.9 C184.5,116.2 186.4,116.2 187.3,117.9 C189.1,121.6 190.5,127.6 190.0,133.6 A3.1,1.5 0 0 1 183.8,133.6 Z" fill="url(#rod)" stroke="#b9ad86" stroke-opacity="0.55" stroke-width="0.35"/>
<path d="M183.8,133.6 C182.7,127.6 181.8,121.6 183.6,117.9 C184.5,116.2 186.4,116.2 187.3,117.9 C189.1,121.6 190.5,127.6 190.0,133.6 A3.1,1.5 0 0 1 183.8,133.6 Z" fill="url(#rodshade)"/>
<path d="M194.4,133.6 C193.2,127.6 192.0,121.6 193.8,117.9 C194.7,116.2 196.6,116.2 197.5,117.9 C199.3,121.6 201.0,127.6 200.5,133.6 A3.1,1.5 0 0 1 194.4,133.6 Z" fill="url(#rod)" stroke="#b9ad86" stroke-opacity="0.55" stroke-width="0.35"/>
<path d="M194.4,133.6 C193.2,127.6 192.0,121.6 193.8,117.9 C194.7,116.2 196.6,116.2 197.5,117.9 C199.3,121.6 201.0,127.6 200.5,133.6 A3.1,1.5 0 0 1 194.4,133.6 Z" fill="url(#rodshade)"/>
<path d="M80.5,119.9 L81.0,124.0 L86.0,124.0 L86.5,119.9 Z" fill="#1cc231"/>
<ellipse cx="83.5" cy="118.2" rx="5.5" ry="5.1" fill="url(#blob)"/>
<path d="M105.2,118.0 L105.7,121.4 L109.7,121.4 L110.2,118.0 Z" fill="#1cc231"/>
<ellipse cx="107.7" cy="116.7" rx="4.5" ry="4.2" fill="url(#blob)"/>
<path d="M96.3,124.4 L96.9,128.9 L102.3,128.9 L102.9,124.4 Z" fill="#1cc231"/>
<ellipse cx="99.6" cy="122.6" rx="6.0" ry="5.6" fill="url(#blob)"/>
<path d="M133.8,121.4 L134.4,125.9 L139.8,125.9 L140.4,121.4 Z" fill="#1cc231"/>
<ellipse cx="137.1" cy="119.6" rx="6.0" ry="5.6" fill="url(#blob)"/>
<path d="M137.6,116.5 L138.1,119.9 L142.1,119.9 L142.6,116.5 Z" fill="#1cc231"/>
<ellipse cx="140.1" cy="115.2" rx="4.5" ry="4.2" fill="url(#blob)"/>
<path d="M162.8,119.1 L163.3,123.2 L168.3,123.2 L168.8,119.1 Z" fill="#1cc231"/>
<ellipse cx="165.8" cy="117.4" rx="5.5" ry="5.1" fill="url(#blob)"/>
<path d="M81.4,121.2 L81.8,124.2 L85.4,124.2 L85.8,121.2 Z" fill="#1cc231"/>
<ellipse cx="83.6" cy="120.0" rx="4.0" ry="3.7" fill="url(#blob)"/>
<path d="M75.1,142.9 C74.5,136.7 76.3,130.4 78.2,126.4 C79.2,124.7 81.1,124.7 82.1,126.4 C84.0,130.4 82.9,136.7 81.6,142.9 A3.3,1.5 0 0 1 75.1,142.9 Z" fill="url(#rod)" stroke="#b9ad86" stroke-opacity="0.55" stroke-width="0.35"/>
<path d="M75.1,142.9 C74.5,136.7 76.3,130.4 78.2,126.4 C79.2,124.7 81.1,124.7 82.1,126.4 C84.0,130.4 82.9,136.7 81.6,142.9 A3.3,1.5 0 0 1 75.1,142.9 Z" fill="url(#rodshade)"/>
<path d="M86.1,142.9 C85.5,136.7 87.0,130.4 88.9,126.4 C89.9,124.7 91.8,124.7 92.8,126.4 C94.7,130.4 93.8,136.7 92.7,142.9 A3.3,1.5 0 0 1 86.1,142.9 Z" fill="url(#rod)" stroke="#b9ad86" stroke-opacity="0.55" stroke-width="0.35"/>
<path d="M86.1,142.9 C85.5,136.7 87.0,130.4 88.9,126.4 C89.9,124.7 91.8,124.7 92.8,126.4 C94.7,130.4 93.8,136.7 92.7,142.9 A3.3,1.5 0 0 1 86.1,142.9 Z" fill="url(#rodshade)"/>
<path d="M97.1,142.9 C96.5,136.7 97.7,130.4 99.6,126.4 C100.6,124.7 102.5,124.7 103.5,126.4 C105.4,130.4 104.8,136.7 103.7,142.9 A3.3,1.5 0 0 1 97.1,142.9 Z" fill="url(#rod)" stroke="#b9ad86" stroke-opacity="0.55" stroke-width="0.35"/>
<path d="M97.1,142.9 C96.5,136.7 97.7,130.4 99.6,126.4 C100.6,124.7 102.5,124.7 103.5,126.4 C105.4,130.4 104.8,136.7 103.7,142.9 A3.3,1.5 0 0 1 97.1,142.9 Z" fill="url(#rodshade)"/>
<path d="M108.2,142.9 C107.4,136.7 108.4,130.4 110.3,126.4 C111.3,124.7 113.2,124.7 114.2,126.4 C116.1,130.4 115.8,136.7 114.7,142.9 A3.3,1.5 0 0 1 108.2,142.9 Z" fill="url(#rod)" stroke="#b9ad86" stroke-opacity="0.55" stroke-width="0.35"/>
<path d="M108.2,142.9 C107.4,136.7 108.4,130.4 110.3,126.4 C111.3,124.7 113.2,124.7 114.2,126.4 C116.1,130.4 115.8,136.7 114.7,142.9 A3.3,1.5 0 0 1 108.2,142.9 Z" fill="url(#rodshade)"/>
<path d="M119.2,142.9 C118.4,136.7 119.1,130.4 121.0,126.4 C122.0,124.7 123.9,124.7 124.9,126.4 C126.8,130.4 126.7,136.7 125.7,142.9 A3.3,1.5 0 0 1 119.2,142.9 Z" fill="url(#rod)" stroke="#b9ad86" stroke-opacity="0.55" stroke-width="0.35"/>
<path d="M119.2,142.9 C118.4,136.7 119.1,130.4 121.0,126.4 C122.0,124.7 123.9,124.7 124.9,126.4 C126.8,130.4 126.7,136.7 125.7,142.9 A3.3,1.5 0 0 1 119.2,142.9 Z" fill="url(#rodshade)"/>
<path d="M130.2,142.9 C129.4,136.7 129.8,130.4 131.7,126.4 C132.7,124.7 134.6,124.7 135.6,126.4 C137.5,130.4 137.7,136.7 136.8,142.9 A3.3,1.5 0 0 1 130.2,142.9 Z" fill="url(#rod)" stroke="#b9ad86" stroke-opacity="0.55" stroke-width="0.35"/>
<path d="M130.2,142.9 C129.4,136.7 129.8,130.4 131.7,126.4 C132.7,124.7 134.6,124.7 135.6,126.4 C137.5,130.4 137.7,136.7 136.8,142.9 A3.3,1.5 0 0 1 130.2,142.9 Z" fill="url(#rodshade)"/>
<path d="M141.2,142.9 C140.3,136.7 140.5,130.4 142.4,126.4 C143.4,124.7 145.3,124.7 146.3,126.4 C148.2,130.4 148.7,136.7 147.8,142.9 A3.3,1.5 0 0 1 141.2,142.9 Z" fill="url(#rod)" stroke="#b9ad86" stroke-opacity="0.55" stroke-width="0.35"/>
<path d="M141.2,142.9 C140.3,136.7 140.5,130.4 142.4,126.4 C143.4,124.7 145.3,124.7 146.3,126.4 C148.2,130.4 148.7,136.7 147.8,142.9 A3.3,1.5 0 0 1 141.2,142.9 Z" fill="url(#rodshade)"/>
<path d="M152.3,142.9 C151.3,136.7 151.2,130.4 153.1,126.4 C154.1,124.7 156.0,124.7 157.0,126.4 C158.9,130.4 159.6,136.7 158.8,142.9 A3.3,1.5 0 0 1 152.3,142.9 Z" fill="url(#rod)" stroke="#b9ad86" stroke-opacity="0.55" stroke-width="0.35"/>
<path d="M152.3,142.9 C151.3,136.7 151.2,130.4 153.1,126.4 C154.1,124.7 156.0,124.7 157.0,126.4 C158.9,130.4 159.6,136.7 158.8,142.9 A3.3,1.5 0 0 1 152.3,142.9 Z" fill="url(#rodshade)"/>
<path d="M163.3,142.9 C162.2,136.7 161.9,130.4 163.8,126.4 C164.8,124.7 166.7,124.7 167.7,126.4 C169.6,130.4 170.6,136.7 169.9,142.9 A3.3,1.5 0 0 1 163.3,142.9 Z" fill="url(#rod)" stroke="#b9ad86" stroke-opacity="0.55" stroke-width="0.35"/>
<path d="M163.3,142.9 C162.2,136.7 161.9,130.4 163.8,126.4 C164.8,124.7 166.7,124.7 167.7,126.4 C169.6,130.4 170.6,136.7 169.9,142.9 A3.3,1.5 0 0 1 163.3,142.9 Z" fill="url(#rodshade)"/>
<path d="M174.3,142.9 C173.2,136.7 172.6,130.4 174.5,126.4 C175.5,124.7 177.4,124.7 178.4,126.4 C180.3,130.4 181.5,136.7 180.9,142.9 A3.3,1.5 0 0 1 174.3,142.9 Z" fill="url(#rod)" stroke="#b9ad86" stroke-opacity="0.55" stroke-width="0.35"/>
<path d="M174.3,142.9 C173.2,136.7 172.6,130.4 174.5,126.4 C175.5,124.7 177.4,124.7 178.4,126.4 C180.3,130.4 181.5,136.7 180.9,142.9 A3.3,1.5 0 0 1 174.3,142.9 Z" fill="url(#rodshade)"/>
<path d="M185.4,142.9 C184.2,136.7 183.3,130.4 185.2,126.4 C186.2,124.7 188.1,124.7 189.0,126.4 C191.0,130.4 192.5,136.7 191.9,142.9 A3.3,1.5 0 0 1 185.4,142.9 Z" fill="url(#rod)" stroke="#b9ad86" stroke-opacity="0.55" stroke-width="0.35"/>
<path d="M185.4,142.9 C184.2,136.7 183.3,130.4 185.2,126.4 C186.2,124.7 188.1,124.7 189.0,126.4 C191.0,130.4 192.5,136.7 191.9,142.9 A3.3,1.5 0 0 1 185.4,142.9 Z" fill="url(#rodshade)"/>
<path d="M196.4,142.9 C195.1,136.7 194.0,130.4 195.9,126.4 C196.9,124.7 198.8,124.7 199.7,126.4 C201.7,130.4 203.5,136.7 202.9,142.9 A3.3,1.5 0 0 1 196.4,142.9 Z" fill="url(#rod)" stroke="#b9ad86" stroke-opacity="0.55" stroke-width="0.35"/>
<path d="M196.4,142.9 C195.1,136.7 194.0,130.4 195.9,126.4 C196.9,124.7 198.8,124.7 199.7,126.4 C201.7,130.4 203.5,136.7 202.9,142.9 A3.3,1.5 0 0 1 196.4,142.9 Z" fill="url(#rodshade)"/>
<path d="M113.3,127.6 L113.8,131.0 L117.8,131.0 L118.3,127.6 Z" fill="#1cc231"/>
<ellipse cx="115.8" cy="126.3" rx="4.5" ry="4.2" fill="url(#blob)"/>
<path d="M179.5,127.6 L180.0,131.0 L184.0,131.0 L184.5,127.6 Z" fill="#1cc231"/>
<ellipse cx="182.0" cy="126.3" rx="4.5" ry="4.2" fill="url(#blob)"/>
<path d="M71.6,152.3 C71.0,145.7 72.8,139.1 74.9,135.0 C75.9,133.2 77.9,133.2 79.0,135.0 C81.0,139.1 79.8,145.7 78.5,152.3 A3.5,1.6 0 0 1 71.6,152.3 Z" fill="url(#rod)" stroke="#b9ad86" stroke-opacity="0.55" stroke-width="0.35"/>
<path d="M71.6,152.3 C71.0,145.7 72.8,139.1 74.9,135.0 C75.9,133.2 77.9,133.2 79.0,135.0 C81.0,139.1 79.8,145.7 78.5,152.3 A3.5,1.6 0 0 1 71.6,152.3 Z" fill="url(#rodshade)"/>
<path d="M83.1,152.3 C82.5,145.7 84.0,139.1 86.1,135.0 C87.1,133.2 89.1,133.2 90.1,135.0 C92.2,139.1 91.3,145.7 90.0,152.3 A3.5,1.6 0 0 1 83.1,152.3 Z" fill="url(#rod)" stroke="#b9ad86" stroke-opacity="0.55" stroke-width="0.35"/>
<path d="M83.1,152.3 C82.5,145.7 84.0,139.1 86.1,135.0 C87.1,133.2 89.1,133.2 90.1,135.0 C92.2,139.1 91.3,145.7 90.0,152.3 A3.5,1.6 0 0 1 83.1,152.3 Z" fill="url(#rodshade)"/>
<path d="M94.6,152.3 C93.9,145.7 95.2,139.1 97.3,135.0 C98.3,133.2 100.3,133.2 101.3,135.0 C103.4,139.1 102.7,145.7 101.6,152.3 A3.5,1.6 0 0 1 94.6,152.3 Z" fill="url(#rod)" stroke="#b9ad86" stroke-opacity="0.55" stroke-width="0.35"/>
<path d="M94.6,152.3 C93.9,145.7 95.2,139.1 97.3,135.0 C98.3,133.2 100.3,133.2 101.3,135.0 C103.4,139.1 102.7,145.7 101.6,152.3 A3.5,1.6 0 0 1 94.6,152.3 Z" fill="url(#rodshade)"/>
<path d="M106.2,152.3 C105.4,145.7 106.4,139.1 108.4,135.0 C109.5,133.2 111.5,133.2 112.5,135.0 C114.6,139.1 114.2,145.7 113.1,152.3 A3.5,1.6 0 0 1 106.2,152.3 Z" fill="url(#rod)" stroke="#b9ad86" stroke-opacity="0.55" stroke-width="0.35"/>
<path d="M106.2,152.3 C105.4,145.7 106.4,139.1 108.4,135.0 C109.5,133.2 111.5,133.2 112.5,135.0 C114.6,139.1 114.2,145.7 113.1,152.3 A3.5,1.6 0 0 1 106.2,152.3 Z" fill="url(#rodshade)"/>
<path d="M117.7,152.3 C116.9,145.7 117.6,139.1 119.6,135.0 C120.6,133.2 122.7,133.2 123.7,135.0 C125.8,139.1 125.7,145.7 124.6,152.3 A3.5,1.6 0 0 1 117.7,152.3 Z" fill="url(#rod)" stroke="#b9ad86" stroke-opacity="0.55" stroke-width="0.35"/>
<path d="M117.7,152.3 C116.9,145.7 117.6,139.1 119.6,135.0 C120.6,133.2 122.7,133.2 123.7,135.0 C125.8,139.1 125.7,145.7 124.6,152.3 A3.5,1.6 0 0 1 117.7,152.3 Z" fill="url(#rodshade)"/>
<path d="M129.2,152.3 C128.3,145.7 128.8,139.1 130.8,135.0 C131.8,133.2 133.9,133.2 134.9,135.0 C136.9,139.1 137.1,145.7 136.2,152.3 A3.5,1.6 0 0 1 129.2,152.3 Z" fill="url(#rod)" stroke="#b9ad86" stroke-opacity="0.55" stroke-width="0.35"/>
<path d="M129.2,152.3 C128.3,145.7 128.8,139.1 130.8,135.0 C131.8,133.2 133.9,133.2 134.9,135.0 C136.9,139.1 137.1,145.7 136.2,152.3 A3.5,1.6 0 0 1 129.2,152.3 Z" fill="url(#rodshade)"/>
<path d="M140.8,152.3 C139.8,145.7 140.0,139.1 142.0,135.0 C143.0,133.2 145.1,133.2 146.1,135.0 C148.1,139.1 148.6,145.7 147.7,152.3 A3.5,1.6 0 0 1 140.8,152.3 Z" fill="url(#rod)" stroke="#b9ad86" stroke-opacity="0.55" stroke-width="0.35"/>
<path d="M140.8,152.3 C139.8,145.7 140.0,139.1 142.0,135.0 C143.0,133.2 145.1,133.2 146.1,135.0 C148.1,139.1 148.6,145.7 147.7,152.3 A3.5,1.6 0 0 1 140.8,152.3 Z" fill="url(#rodshade)"/>
<path d="M152.3,152.3 C151.2,145.7 151.1,139.1 153.2,135.0 C154.2,133.2 156.3,133.2 157.3,135.0 C159.3,139.1 160.1,145.7 159.2,152.3 A3.5,1.6 0 0 1 152.3,152.3 Z" fill="url(#rod)" stroke="#b9ad86" stroke-opacity="0.55" stroke-width="0.35"/>
<path d="M152.3,152.3 C151.2,145.7 151.1,139.1 153.2,135.0 C154.2,133.2 156.3,133.2 157.3,135.0 C159.3,139.1 160.1,145.7 159.2,152.3 A3.5,1.6 0 0 1 152.3,152.3 Z" fill="url(#rodshade)"/>
<path d="M163.8,152.3 C162.7,145.7 162.3,139.1 164.4,135.0 C165.4,133.2 167.4,133.2 168.5,135.0 C170.5,139.1 171.5,145.7 170.8,152.3 A3.5,1.6 0 0 1 163.8,152.3 Z" fill="url(#rod)" stroke="#b9ad86" stroke-opacity="0.55" stroke-width="0.35"/>
<path d="M163.8,152.3 C162.7,145.7 162.3,139.1 164.4,135.0 C165.4,133.2 167.4,133.2 168.5,135.0 C170.5,139.1 171.5,145.7 170.8,152.3 A3.5,1.6 0 0 1 163.8,152.3 Z" fill="url(#rodshade)"/>
<path d="M175.4,152.3 C174.2,145.7 173.5,139.1 175.6,135.0 C176.6,133.2 178.6,133.2 179.7,135.0 C181.7,139.1 183.0,145.7 182.3,152.3 A3.5,1.6 0 0 1 175.4,152.3 Z" fill="url(#rod)" stroke="#b9ad86" stroke-opacity="0.55" stroke-width="0.35"/>
<path d="M175.4,152.3 C174.2,145.7 173.5,139.1 175.6,135.0 C176.6,133.2 178.6,133.2 179.7,135.0 C181.7,139.1 183.0,145.7 182.3,152.3 A3.5,1.6 0 0 1 175.4,152.3 Z" fill="url(#rodshade)"/>
<path d="M186.9,152.3 C185.6,145.7 184.7,139.1 186.8,135.0 C187.8,133.2 189.8,133.2 190.8,135.0 C192.9,139.1 194.5,145.7 193.8,152.3 A3.5,1.6 0 0 1 186.9,152.3 Z" fill="url(#rod)" stroke="#b9ad86" stroke-opacity="0.55" stroke-width="0.35"/>
<path d="M186.9,152.3 C185.6,145.7 184.7,139.1 186.8,135.0 C187.8,133.2 189.8,133.2 190.8,135.0 C192.9,139.1 194.5,145.7 193.8,152.3 A3.5,1.6 0 0 1 186.9,152.3 Z" fill="url(#rodshade)"/>
<path d="M198.4,152.3 C197.1,145.7 195.9,139.1 197.9,135.0 C199.0,133.2 201.0,133.2 202.0,135.0 C204.1,139.1 205.9,145.7 205.4,152.3 A3.5,1.6 0 0 1 198.4,152.3 Z" fill="url(#rod)" stroke="#b9ad86" stroke-opacity="0.55" stroke-width="0.35"/>
<path d="M198.4,152.3 C197.1,145.7 195.9,139.1 197.9,135.0 C199.0,133.2 201.0,133.2 202.0,135.0 C204.1,139.1 205.9,145.7 205.4,152.3 A3.5,1.6 0 0 1 198.4,152.3 Z" fill="url(#rodshade)"/>
<path d="M124.8,132.9 L125.2,136.7 L129.8,136.7 L130.2,132.9 Z" fill="#1cc231"/>
<ellipse cx="127.5" cy="131.4" rx="5.0" ry="4.7" fill="url(#blob)"/>
<path d="M98.1,141.2 L98.6,145.3 L103.6,145.3 L104.1,141.2 Z" fill="#1cc231"/>
<ellipse cx="101.1" cy="139.5" rx="5.5" ry="5.1" fill="url(#blob)"/>
<path d="M146.1,134.6 L146.7,138.5 L151.3,138.5 L151.9,134.6 Z" fill="#1cc231"/>
<ellipse cx="149.0" cy="133.0" rx="5.2" ry="4.8" fill="url(#blob)"/>
<path d="M68.2,161.1 C67.7,154.2 69.6,147.4 71.7,143.1 C72.8,141.2 75.0,141.2 76.0,143.1 C78.2,147.4 76.9,154.2 75.6,161.1 A3.7,1.7 0 0 1 68.2,161.1 Z" fill="url(#rod)" stroke="#b9ad86" stroke-opacity="0.55" stroke-width="0.35"/>
<path d="M80.3,161.1 C79.6,154.2 81.2,147.4 83.4,143.1 C84.5,141.2 86.6,141.2 87.7,143.1 C89.8,147.4 88.9,154.2 87.6,161.1 A3.7,1.7 0 0 1 80.3,161.1 Z" fill="url(#rod)" stroke="#b9ad86" stroke-opacity="0.55" stroke-width="0.35"/>
<path d="M92.3,161.1 C91.5,154.2 92.9,147.4 95.0,143.1 C96.1,141.2 98.3,141.2 99.3,143.1 C101.5,147.4 100.8,154.2 99.6,161.1 A3.7,1.7 0 0 1 92.3,161.1 Z" fill="url(#rod)" stroke="#b9ad86" stroke-opacity="0.55" stroke-width="0.35"/>
<path d="M104.3,161.1 C103.5,154.2 104.5,147.4 106.7,143.1 C107.8,141.2 109.9,141.2 111.0,143.1 C113.1,147.4 112.8,154.2 111.6,161.1 A3.7,1.7 0 0 1 104.3,161.1 Z" fill="url(#rod)" stroke="#b9ad86" stroke-opacity="0.55" stroke-width="0.35"/>
<path d="M116.3,161.1 C115.4,154.2 116.2,147.4 118.3,143.1 C119.4,141.2 121.6,141.2 122.6,143.1 C124.8,147.4 124.7,154.2 123.6,161.1 A3.7,1.7 0 0 1 116.3,161.1 Z" fill="url(#rod)" stroke="#b9ad86" stroke-opacity="0.55" stroke-width="0.35"/>
<path d="M128.3,161.1 C127.3,154.2 127.8,147.4 130.0,143.1 C131.1,141.2 133.2,141.2 134.3,143.1 C136.4,147.4 136.6,154.2 135.6,161.1 A3.7,1.7 0 0 1 128.3,161.1 Z" fill="url(#rod)" stroke="#b9ad86" stroke-opacity="0.55" stroke-width="0.35"/>
<path d="M140.3,161.1 C139.3,154.2 139.5,147.4 141.6,143.1 C142.7,141.2 144.9,141.2 145.9,143.1 C148.1,147.4 148.6,154.2 147.6,161.1 A3.7,1.7 0 0 1 140.3,161.1 Z" fill="url(#rod)" stroke="#b9ad86" stroke-opacity="0.55" stroke-width="0.35"/>
<path d="M152.3,161.1 C151.2,154.2 151.1,147.4 153.3,143.1 C154.3,141.2 156.5,141.2 157.6,143.1 C159.7,147.4 160.5,154.2 159.6,161.1 A3.7,1.7 0 0 1 152.3,161.1 Z" fill="url(#rod)" stroke="#b9ad86" stroke-opacity="0.55" stroke-width="0.35"/>
<path d="M164.3,161.1 C163.1,154.2 162.8,147.4 164.9,143.1 C166.0,141.2 168.1,141.2 169.2,143.1 C171.4,147.4 172.4,154.2 171.6,161.1 A3.7,1.7 0 0 1 164.3,161.1 Z" fill="url(#rod)" stroke="#b9ad86" stroke-opacity="0.55" stroke-width="0.35"/>
<path d="M176.3,161.1 C175.1,154.2 174.4,147.4 176.6,143.1 C177.6,141.2 179.8,141.2 180.9,143.1 C183.0,147.4 184.4,154.2 183.6,161.1 A3.7,1.7 0 0 1 176.3,161.1 Z" fill="url(#rod)" stroke="#b9ad86" stroke-opacity="0.55" stroke-width="0.35"/>
<path d="M188.3,161.1 C187.0,154.2 186.1,147.4 188.2,143.1 C189.3,141.2 191.4,141.2 192.5,143.1 C194.7,147.4 196.3,154.2 195.6,161.1 A3.7,1.7 0 0 1 188.3,161.1 Z" fill="url(#rod)" stroke="#b9ad86" stroke-opacity="0.55" stroke-width="0.35"/>
<path d="M200.3,161.1 C199.0,154.2 197.7,147.4 199.9,143.1 C200.9,141.2 203.1,141.2 204.2,143.1 C206.3,147.4 208.2,154.2 207.7,161.1 A3.7,1.7 0 0 1 200.3,161.1 Z" fill="url(#rod)" stroke="#b9ad86" stroke-opacity="0.55" stroke-width="0.35"/>
<path d="M170.2,141.8 L170.8,146.3 L176.2,146.3 L176.8,141.8 Z" fill="#1cc231"/>
<ellipse cx="173.5" cy="140.0" rx="6.0" ry="5.6" fill="url(#blob)"/>
<path d="M188.8,141.8 L189.2,145.6 L193.8,145.6 L194.2,141.8 Z" fill="#1cc231"/>
<ellipse cx="191.5" cy="140.3" rx="5.0" ry="4.7" fill="url(#blob)"/>
<path d="M76.5,145.0 L77.0,148.8 L81.5,148.8 L82.0,145.0 Z" fill="#1cc231"/>
<ellipse cx="79.2" cy="143.5" rx="5.0" ry="4.7" fill="url(#blob)"/>
<path d="M123.2,143.7 L123.7,147.8 L128.7,147.8 L129.2,143.7 Z" fill="#1cc231"/>
<ellipse cx="126.2" cy="142.0" rx="5.5" ry="5.1" fill="url(#blob)"/>
</g>
<line x1="147.5" y1="103.6" x2="210" y2="66.8" stroke="#c9d23a" stroke-width="0.6"/>
<line x1="147.5" y1="102.8" x2="210" y2="66" stroke="#e2532a" stroke-width="0.8"/>
<g id="device">
<path d="M275,20.6 C281,18.6 290,18.8 294.5,21.2 C297.2,23.5 297.2,29.5 294.8,31.6 C289,33.6 282,33 277.5,32 Z" fill="url(#skin)"/>
<path d="M226.8,36.4 C229,32.5 238,28 247.7,24.7 C254,22.3 262,21 270,20.3 C274,20 277.5,20.2 279,21 C281.5,24 282,29 280.2,32 C274,34.2 266,34.2 260.5,35.2 C256,37 251,42 247,42 L236,41 C232,40.5 227.5,40 226.8,36.4 Z" fill="url(#glove)"/>
<path d="M227.5,37.5 C233,33 243,30.5 250,29" fill="none" stroke="#9698a6" stroke-width="0.6"/>
<path d="M206.3,54 L206.7,58 C207,59 207.5,59.6 208.3,60.2 L225.5,75.4 C227,76.5 229,76.5 230.5,75.5 L269,48.6 C270.2,47.6 270.6,46.5 270.4,45 L270,42.8 L228,71.5 Z" fill="#9aa1bf"/>
<path d="M207.6,52.4 L241.4,31.6 C243,30.7 244.8,30.6 246.4,31.3 L268.6,41.3 C270.4,42.2 270.6,44 269,45.2 L230.6,71.4 C229,72.5 227,72.5 225.5,71.3 L207.4,56.2 C205.9,55 206,53.4 207.6,52.4 Z" fill="#cdd2e6"/>
<path d="M207.6,52.4 L241.4,31.6 C243,30.7 244.8,30.6 246.4,31.3 L268.6,41.3" fill="none" stroke="#eef0f8" stroke-width="0.7"/>
<polygon points="234,40 244.3,34.1 264,42.6 247.7,52" fill="#8791b3"/>
<ellipse cx="237.5" cy="41.8" rx="1.8" ry="1.25" fill="#3c4560" transform="rotate(-25 237.5 41.8)"/>
<ellipse cx="241.8" cy="39.2" rx="1.8" ry="1.25" fill="#3c4560" transform="rotate(-25 241.8 39.2)"/>
<ellipse cx="241.2" cy="44" rx="1.8" ry="1.25" fill="#3c4560" transform="rotate(-25 241.2 44)"/>
<ellipse cx="246" cy="42.3" rx="1.8" ry="1.25" fill="#3c4560" transform="rotate(-25 246 42.3)"/>
<ellipse cx="246" cy="47.8" rx="1.8" ry="1.25" fill="#3c4560" transform="rotate(-25 246 47.8)"/>
<ellipse cx="250.3" cy="45.2" rx="1.8" ry="1.25" fill="#3c4560" transform="rotate(-25 250.3 45.2)"/>
<polygon points="212,51.3 230.6,39.7 246.6,52 227.2,64.8" fill="#8ea59f"/>
<polygon points="214.6,51.4 230.5,41.6 244,52 227.4,62.6" fill="#f2f0ea"/>
<polyline points="219.5,53 229.5,46.8 238.8,54" fill="none" stroke="#d9b48a" stroke-width="0.45"/>
<polyline points="228.5,60 231.5,57.6 234,56.8 236.5,54.4 238.5,49.8" fill="none" stroke="#c98f6a" stroke-width="0.45"/>
<path d="M254.5,27.5 C258,26 261.5,27 261.8,30 C261,34 257,38.5 253.5,40 C250.5,40.8 248.2,39.3 248.8,37 C250,33.5 252,30 254.5,27.5 Z" fill="#dedee4"/>
<path d="M249.2,38.4 C250.6,40.4 253,40.4 255,39" fill="none" stroke="#8c8e9c" stroke-width="0.7"/>
<path d="M209.6,64.6 L214.3,60.6 L217,62.8 L212.6,67.4 Z" fill="#e9ebf3"/>
<path d="M207.5,66.2 L210.6,64 L212,65.6 L209,67.8 Z" fill="#f4f5fa"/>
</g>
<line x1="250.5" y1="61.5" x2="250.5" y2="72" stroke="#0b1a22" stroke-width="0.9"/><path d="M250.5,74.2 l-1.6,-3 l3.2,0 z" fill="#0b1a22"/>
<text x="176.2" y="67.9" font-size="7.7" font-weight="bold" fill="#0b1a22" textLength="25.7" lengthAdjust="spacingAndGlyphs">LASER</text>
<text x="228.3" y="81.9" font-size="7.8" font-weight="bold" fill="#0b1a22" textLength="66.5" lengthAdjust="spacingAndGlyphs">Hand held Raman</text>
<text x="228.3" y="91.6" font-size="7.8" font-weight="bold" fill="#0b1a22" textLength="51" lengthAdjust="spacingAndGlyphs">Spectrometer</text>
<line x1="190" y1="141" x2="211" y2="141" stroke="#0b1a22" stroke-width="1.1"/><path d="M213.4,141 l-3.2,-1.8 l0,3.6 z" fill="#0b1a22"/>
<text x="215.6" y="143.9" font-size="7.8" font-weight="bold" fill="#0b1a22" textLength="59.6" lengthAdjust="spacingAndGlyphs">Serum on SERS</text>
<text x="215.6" y="153.4" font-size="7.8" font-weight="bold" fill="#0b1a22" textLength="68.8" lengthAdjust="spacingAndGlyphs">substrate (AgNRs)</text>
<text x="17.6" y="29.8" font-size="14" fill="#0a0a0a">(a)</text>
</g>
<g id="panel-b">
<rect x="314.6" y="12.6" width="215.9" height="161.6" fill="#ffffff" stroke="#111111" stroke-width="1.2"/>
<line x1="340.2" y1="174.2" x2="340.2" y2="177.6" stroke="#111" stroke-width="1"/>
<line x1="403.3" y1="174.2" x2="403.3" y2="177.6" stroke="#111" stroke-width="1"/>
<line x1="466.5" y1="174.2" x2="466.5" y2="177.6" stroke="#111" stroke-width="1"/>
<line x1="530.0" y1="174.2" x2="530.0" y2="177.6" stroke="#111" stroke-width="1"/>
<text x="340.2" y="187.3" font-size="9.8" fill="#111" text-anchor="middle">500</text>
<text x="403.6" y="187.3" font-size="9.8" fill="#111" text-anchor="middle">1000</text>
<text x="466.7" y="187.3" font-size="9.8" fill="#111" text-anchor="middle">1500</text>
<text x="530.0" y="187.3" font-size="9.8" fill="#111" text-anchor="middle">2000</text>
<polyline points="315.2,107.0 315.9,108.9 318.1,117.0 321.0,114.8 323.2,117.0 325.4,113.4 326.4,115.6 327.6,110.9 329.1,124.4 331.0,129.5 333.5,125.8 336.4,112.6 337.3,99.0 338.2,85.8 339.1,95.0 340.1,103.8 341.6,112.6 343.0,115.6 345.2,117.0 347.4,123.6 349.4,118.5 351.6,102.3 352.9,111.2 354.0,106.7 355.2,90.0 356.3,62.0 357.3,43.7 358.3,62.0 359.2,88.0 360.0,102.3 362.1,112.6 365.1,120.7 367.3,119.2 369.2,111.2 370.6,117.0 372.4,114.8 374.6,120.7 376.4,125.1 378.3,117.0 380.2,106.0 382.0,115.6 383.4,117.0 384.9,111.9 385.6,115.6 386.5,111.2 387.9,99.4 389.4,96.3 390.9,103.8 392.3,114.1 393.8,117.8 396.0,118.5 397.5,117.0 399.0,113.4 400.4,113.4 401.9,108.2 402.9,105.3 403.5,92.0 404.1,80.8 404.8,92.0 405.6,100.9 407.0,109.0 408.5,114.8 410.7,117.0 412.2,112.6 413.6,114.1 415.1,118.5 416.6,119.2 417.6,109.7 418.8,88.0 419.9,71.7 420.9,84.0 421.7,93.0 422.4,103.8 423.5,117.0 424.4,120.0 426.1,115.6 427.6,103.8 428.3,88.0 429.0,76.9 429.8,83.0 430.5,88.2 432.0,99.9 434.2,99.2 436.0,96.7 437.9,100.7 440.0,104.0 441.5,98.5 443.0,85.2 445.2,76.4 446.7,79.4 448.1,85.2 449.2,82.3 450.6,86.7 451.8,87.4 452.8,84.5 454.8,91.1 456.2,95.5 457.7,100.7 459.9,96.3 461.4,101.4 462.1,106.7 462.9,115.0 464.1,122.9 465.1,118.5 466.6,111.2 468.1,109.7 469.5,111.2 471.0,103.0 472.5,89.4 474.0,74.7 474.7,63.7 475.9,54.9 476.6,52.7 477.6,60.8 478.6,56.4 479.5,53.5 480.6,55.7 482.0,54.2 483.5,52.0 485.0,41.7 486.1,27.0 487.2,16.7 488.3,14.1 489.4,16.7 490.4,27.0 491.3,31.4 492.3,49.0 493.5,63.7 494.1,74.7 495.2,95.0 496.7,109.7 498.2,114.1 499.6,111.9 501.1,115.6 502.6,111.2 503.6,112.6 503.9,96.5 504.2,114.1 505.8,119.2 507.3,122.2 509.2,117.8 511.4,116.3 512.9,114.1 514.6,117.8 516.5,113.4 517.7,110.4 518.7,117.0 520.2,111.2 521.7,121.4 522.8,128.0 524.2,118.5 525.3,122.9 526.8,115.6 528.0,112.6 529.0,113.4 530.2,105.3" fill="none" stroke="#ff1010" stroke-width="1.05" stroke-linejoin="round"/>
<polyline points="315.2,133.0 315.9,134.6 317.3,142.0 320.3,139.0 322.5,140.5 324.7,136.1 326.2,137.6 327.6,124.4 329.1,143.5 330.9,148.6 333.5,146.4 336.4,137.6 338.6,129.5 340.1,134.6 341.6,137.6 343.8,139.0 346.7,144.2 348.9,142.0 351.1,136.1 352.6,138.3 354.0,133.2 355.8,120.0 357.3,109.7 358.3,118.0 359.2,127.3 360.7,137.6 362.9,142.0 365.8,143.5 368.7,141.3 370.9,142.0 373.1,139.8 375.3,143.5 376.8,145.7 379.0,139.0 381.2,134.6 383.4,133.9 384.6,124.4 385.6,133.2 386.2,131.7 387.2,117.0 388.2,125.8 389.4,126.6 390.9,131.7 392.3,137.6 393.8,136.9 396.0,135.4 397.5,136.9 399.7,134.6 401.9,130.2 403.4,127.3 404.2,110.4 405.3,128.8 407.0,134.6 408.5,139.0 410.7,142.0 412.9,139.8 415.1,141.3 417.3,138.3 418.8,130.2 420.2,124.4 421.4,130.2 422.4,140.5 423.9,146.4 426.1,142.0 427.6,133.2 429.0,123.6 430.5,130.2 432.0,131.7 434.2,132.4 435.7,130.2 437.9,133.9 440.0,136.9 442.3,133.2 444.5,127.3 445.9,129.5 448.1,131.0 449.6,133.2 451.8,133.9 453.3,133.9 455.2,137.6 457.0,139.0 458.4,136.9 459.6,135.4 461.4,139.0 461.9,143.0 462.9,150.8 464.4,153.7 466.6,151.5 468.1,152.3 469.5,150.8 471.0,144.9 472.5,139.0 474.0,134.6 475.4,128.8 476.9,124.4 477.9,126.6 479.1,124.4 480.6,123.6 482.0,122.9 483.5,122.2 485.0,118.5 486.4,112.6 487.9,109.7 489.4,105.0 490.4,109.7 491.6,114.1 492.6,124.4 493.8,131.7 495.2,140.5 496.7,146.4 498.2,150.8 499.6,147.1 501.1,146.4 502.6,143.5 503.9,145.7 504.1,111.2 504.2,145.7 506.3,146.4 507.7,145.7 508.9,148.6 510.7,144.9 512.1,143.5 513.2,145.7 514.3,139.0 515.5,137.6 516.5,142.0 517.7,136.9 518.7,142.0 520.2,133.9 521.4,142.7 522.4,146.4 523.4,139.0 524.3,136.9 525.3,142.0 526.8,137.6 528.3,136.1 529.3,133.2 530.2,130.2" fill="none" stroke="#141414" stroke-width="1.05" stroke-linejoin="round"/>
<polyline points="315.1,169.1 316.6,173.5 318.8,169.1 321.0,169.8 323.2,167.6 325.4,161.7 326.4,164.6 327.6,141.2 328.8,160.2 329.8,171.3 332.0,171.3 335.0,169.1 337.2,163.2 338.9,159.1 340.8,163.9 342.3,166.9 344.5,163.9 346.7,167.6 348.2,168.3 350.4,163.2 352.3,159.5 353.8,162.4 355.2,156.6 357.3,145.6 358.5,151.4 359.9,158.8 362.1,161.0 365.1,161.7 367.3,163.2 369.5,159.5 371.7,160.2 373.9,160.0 375.3,162.4 376.8,163.9 379.0,159.5 381.2,156.6 383.0,160.2 384.2,158.0 384.6,143.4 385.5,157.3 386.4,156.6 387.4,136.0 388.3,156.6 389.4,156.6 391.6,158.0 393.8,156.6 396.0,159.5 398.2,161.7 400.4,159.5 402.6,155.8 403.8,154.4 404.4,143.4 405.1,155.1 407.0,156.6 409.2,160.2 411.4,158.8 413.6,159.5 415.8,161.7 418.0,158.0 419.9,151.4 421.7,156.6 422.9,161.7 424.4,164.6 426.1,161.7 427.6,157.3 428.8,152.9 429.8,155.8 431.3,156.6 433.5,159.5 434.9,161.7 437.1,158.8 439.3,157.3 440.8,160.2 443.0,158.0 445.2,155.8 446.7,158.0 448.9,156.6 450.3,155.8 452.5,158.8 454.8,159.5 457.0,158.8 459.2,160.2 460.6,159.5 461.5,163.2 463.2,169.1 465.1,166.1 466.6,164.6 468.1,167.6 469.5,169.1 471.0,166.1 472.5,163.9 474.0,161.0 475.4,159.5 476.9,156.6 478.4,155.1 479.8,158.8 481.3,161.7 482.8,159.5 484.2,155.8 485.7,156.6 486.9,153.6 487.9,156.6 489.1,151.4 490.5,155.1 492.0,158.8 493.5,161.7 495.2,165.4 496.7,168.3 498.5,172.0 499.9,166.1 501.4,164.6 502.6,160.2 503.8,158.8 503.9,115.6 504.1,163.2 505.8,166.1 507.0,163.9 508.5,166.9 509.9,161.7 511.4,159.5 512.6,162.4 513.6,152.2 514.8,158.0 515.8,163.9 517.0,154.4 518.0,158.0 519.0,152.2 520.2,160.2 521.1,139.7 522.0,156.6 523.1,149.2 524.3,160.2 525.3,151.4 526.4,155.8 527.5,148.5 528.6,152.2 530.2,141.9" fill="none" stroke="#00e800" stroke-width="1.1" stroke-linejoin="round"/>
<line x1="375.1" y1="21.2" x2="392.5" y2="21.2" stroke="#ff1010" stroke-width="1.1"/>
<line x1="375.1" y1="31.3" x2="392.5" y2="31.3" stroke="#141414" stroke-width="1.1"/>
<line x1="375.1" y1="41.0" x2="392.5" y2="41.0" stroke="#00e800" stroke-width="1.1"/>
<text x="395.3" y="23.7" font-size="7.3" font-weight="bold" fill="#111" textLength="65.1" lengthAdjust="spacingAndGlyphs">Mean NS1 Positive</text>
<text x="395.3" y="33.6" font-size="7.3" font-weight="bold" fill="#111" textLength="66.9" lengthAdjust="spacingAndGlyphs">Mean NS1 Negative</text>
<text x="395.3" y="43.4" font-size="7.3" font-weight="bold" fill="#111" textLength="47" lengthAdjust="spacingAndGlyphs">Mean Healthy</text>
<text transform="translate(329.8,103.1) rotate(-90)" font-size="7.6" fill="#111">402</text>
<text transform="translate(341.1,84.8) rotate(-90)" font-size="7.6" fill="#111">488</text>
<text transform="translate(355.2,100.9) rotate(-90)" font-size="7.6" fill="#111">591</text>
<text transform="translate(361.4,41.1) rotate(-90)" font-size="7.6" fill="#111">636</text>
<text transform="translate(371.4,101.2) rotate(-90)" font-size="7.6" fill="#111">728</text>
<text transform="translate(377.4,111.2) rotate(-90)" font-size="7.6" fill="#111">758</text>
<text transform="translate(383.6,98.9) rotate(-90)" font-size="7.6" fill="#111">815</text>
<text transform="translate(394.8,92.6) rotate(-90)" font-size="7.6" fill="#111">892</text>
<text transform="translate(408.8,79.4) rotate(-90)" font-size="7.6" fill="#111">1006</text>
<text transform="translate(415.6,109.9) rotate(-90)" font-size="7.6" fill="#111">1074</text>
<text transform="translate(422.9,69.1) rotate(-90)" font-size="7.6" fill="#111">1132</text>
<text transform="translate(432.9,73.5) rotate(-90)" font-size="7.6" fill="#111">1203</text>
<text transform="translate(447.9,74.4) rotate(-90)" font-size="7.6" fill="#111">1330</text>
<text transform="translate(457.6,78.8) rotate(-90)" font-size="7.6" fill="#111">1395</text>
<text transform="translate(465.2,95.5) rotate(-90)" font-size="7.6" fill="#111">1445</text>
<text transform="translate(478.9,53.5) rotate(-90)" font-size="7.6" fill="#111">1577</text>
<text transform="translate(500.8,32.2) rotate(-90)" font-size="7.6" fill="#111">1671</text>
<text transform="translate(508.6,92.6) rotate(-90)" font-size="7.6" fill="#111">1792</text>
<text transform="translate(308.3,149.4) rotate(-90)" font-size="12.3" font-weight="bold" fill="#0a0a0a" textLength="86.8" lengthAdjust="spacingAndGlyphs">Intensity (a.u.)</text>
<text x="380.9" y="198.6" font-size="12.3" font-weight="bold" fill="#0a0a0a">Raman shift (cm<tspan font-size="7.5" dy="-5.5">-1</tspan><tspan dy="5.5">)</tspan></text>
<text x="317.8" y="29.6" font-size="14" fill="#0a0a0a">(b)</text>
</g>
<g id="panel-c">
<rect x="38.7" y="207.8" width="216.4" height="161.4" fill="none" stroke="#0a0a0a" stroke-width="1.25"/>
<line x1="38.7" y1="207" x2="38.7" y2="370" stroke="#0a0a0a" stroke-width="2"/>
<line x1="37.7" y1="369.3" x2="255.8" y2="369.3" stroke="#0a0a0a" stroke-width="1.8"/>
<line x1="36.3" y1="346.8" x2="38.7" y2="346.8" stroke="#0a0a0a" stroke-width="1.2"/>
<line x1="34.5" y1="324.4" x2="38.7" y2="324.4" stroke="#0a0a0a" stroke-width="1.2"/>
<line x1="36.3" y1="302.0" x2="38.7" y2="302.0" stroke="#0a0a0a" stroke-width="1.2"/>
<line x1="34.5" y1="279.6" x2="38.7" y2="279.6" stroke="#0a0a0a" stroke-width="1.2"/>
<line x1="36.3" y1="257.2" x2="38.7" y2="257.2" stroke="#0a0a0a" stroke-width="1.2"/>
<line x1="34.5" y1="234.8" x2="38.7" y2="234.8" stroke="#0a0a0a" stroke-width="1.2"/>
<line x1="36.3" y1="212.4" x2="38.7" y2="212.4" stroke="#0a0a0a" stroke-width="1.2"/>
<line x1="38.9" y1="369.3" x2="38.9" y2="372.9" stroke="#0a0a0a" stroke-width="1.2"/>
<line x1="60.5" y1="369.3" x2="60.5" y2="371.5" stroke="#0a0a0a" stroke-width="1.2"/>
<line x1="82.1" y1="369.3" x2="82.1" y2="372.9" stroke="#0a0a0a" stroke-width="1.2"/>
<line x1="103.8" y1="369.3" x2="103.8" y2="371.5" stroke="#0a0a0a" stroke-width="1.2"/>
<line x1="125.4" y1="369.3" x2="125.4" y2="372.9" stroke="#0a0a0a" stroke-width="1.2"/>
<line x1="147.0" y1="369.3" x2="147.0" y2="371.5" stroke="#0a0a0a" stroke-width="1.2"/>
<line x1="168.6" y1="369.3" x2="168.6" y2="372.9" stroke="#0a0a0a" stroke-width="1.2"/>
<line x1="190.2" y1="369.3" x2="190.2" y2="371.5" stroke="#0a0a0a" stroke-width="1.2"/>
<line x1="211.9" y1="369.3" x2="211.9" y2="372.9" stroke="#0a0a0a" stroke-width="1.2"/>
<line x1="233.5" y1="369.3" x2="233.5" y2="371.5" stroke="#0a0a0a" stroke-width="1.2"/>
<line x1="255.1" y1="369.3" x2="255.1" y2="372.9" stroke="#0a0a0a" stroke-width="1.2"/>
<text x="38.9" y="382.2" font-size="8.6" font-weight="bold" fill="#0a0a0a" text-anchor="middle">300</text>
<text x="82.1" y="382.2" font-size="8.6" font-weight="bold" fill="#0a0a0a" text-anchor="middle">600</text>
<text x="125.4" y="382.2" font-size="8.6" font-weight="bold" fill="#0a0a0a" text-anchor="middle">900</text>
<text x="168.6" y="382.2" font-size="8.6" font-weight="bold" fill="#0a0a0a" text-anchor="middle">1200</text>
<text x="211.9" y="382.2" font-size="8.6" font-weight="bold" fill="#0a0a0a" text-anchor="middle">1500</text>
<text x="255.1" y="382.2" font-size="8.6" font-weight="bold" fill="#0a0a0a" text-anchor="middle">1800</text>
<polyline points="39.1,293.8 40.3,298.2 41.7,304.0 43.5,309.2 45.4,306.3 47.6,305.5 50.6,303.3 53.5,304.8 56.4,306.3 59.4,307.7 61.6,304.0 63.0,298.2 64.5,290.1 66.0,288.6 67.4,295.2 68.9,302.6 71.1,308.5 73.3,311.4 75.5,310.7 77.0,307.0 78.5,308.5 80.7,305.5 82.9,304.0 84.3,293.8 85.8,285.0 87.6,278.4 88.7,283.5 89.9,296.7 90.9,305.5 92.4,309.9 94.6,309.9 96.8,305.5 98.3,301.1 99.8,293.0 100.9,299.6 102.2,306.0 103.7,304.0 105.1,307.0 107.3,311.4 108.8,305.5 110.3,302.6 112.5,300.4 114.7,302.6 116.2,301.1 117.6,304.8 118.6,302.6 119.8,307.7 121.3,302.6 122.8,300.4 124.2,302.6 125.7,303.3 127.2,302.6 128.6,304.0 130.1,307.0 131.6,306.3 133.0,304.0 134.5,308.5 136.0,309.9 137.4,305.5 138.6,302.6 139.4,292.3 140.1,281.7 140.8,293.8 141.9,305.5 142.9,307.0 144.1,302.6 145.5,306.3 147.0,305.5 149.2,304.8 150.7,302.6 152.1,301.9 153.3,304.0 154.6,307.0 155.8,304.0 157.0,296.7 158.3,293.0 159.5,296.0 160.5,302.6 161.7,306.3 163.1,304.0 164.6,301.1 166.1,296.7 167.5,291.6 168.7,279.1 170.2,285.0 171.7,289.4 173.4,294.5 174.9,296.7 176.5,299.4 177.9,298.6 179.4,304.5 180.6,308.9 182.0,302.3 183.5,297.9 185.0,293.5 186.0,289.1 187.0,282.5 188.2,292.0 189.7,297.9 191.2,301.6 192.6,301.6 194.1,305.2 195.6,309.6 197.0,303.8 198.5,296.4 200.0,290.6 201.4,281.7 202.9,270.0 204.4,264.5 205.8,271.1 206.6,278.5 207.3,284.7 208.8,296.4 210.2,303.8 211.7,308.9 212.9,311.8 214.4,308.9 216.1,303.8 217.6,296.4 219.1,287.6 220.5,282.5 222.0,277.0 223.2,273.3 224.2,272.6 225.2,274.1 226.4,271.1 227.4,273.3 228.3,279.2 229.3,274.1 230.8,269.6 232.3,259.4 233.7,252.0 234.6,249.8 235.9,252.0 237.1,257.9 238.1,265.2 239.2,274.1 239.6,277.3 240.3,284.3 241.1,292.0 242.5,302.3 244.0,308.2 245.2,313.3 246.7,309.6 247.7,311.8 248.7,306.7 249.6,314.0 250.5,301.6 251.4,314.0 252.4,308.2 253.6,312.6 255.0,309.6" fill="none" stroke="#0a0a0a" stroke-width="1.35" stroke-linejoin="round"/>
<polyline points="39.1,358.3 40.3,364.2 42.0,368.6 44.0,367.9 45.4,363.5 47.6,362.0 49.1,359.8 50.3,362.0 51.7,356.9 53.2,352.4 54.2,359.1 55.3,366.4 57.2,369.3 59.4,369.0 61.1,364.9 63.0,354.6 64.5,345.8 65.7,339.7 66.7,345.8 68.2,354.6 69.6,362.0 71.1,359.8 72.6,364.2 74.1,367.1 75.8,364.9 77.7,362.0 79.2,358.3 80.7,356.1 82.1,358.3 83.6,348.8 85.1,329.7 86.2,315.0 87.3,302.3 88.2,310.0 89.0,318.0 89.9,334.1 90.9,348.8 92.4,359.1 93.4,367.1 94.6,357.6 96.1,364.9 97.5,365.7 99.0,359.1 100.5,347.3 101.7,359.1 102.7,362.7 104.2,361.7 105.9,362.7 107.3,367.1 108.5,368.6 109.7,362.0 111.0,362.7 112.0,357.6 113.2,353.9 114.4,358.3 115.6,363.5 116.7,364.9 117.9,360.5 119.1,363.5 120.3,366.4 121.4,362.0 122.8,353.9 123.8,349.9 125.0,354.6 126.1,362.0 127.9,361.3 129.4,362.7 130.8,364.9 132.3,364.2 133.5,366.4 134.7,364.9 136.0,368.6 137.4,362.0 138.5,357.6 139.4,344.4 140.7,325.0 141.9,341.4 142.9,356.1 144.1,362.7 145.5,365.7 147.0,367.9 148.5,367.1 149.9,364.9 151.7,363.5 153.6,365.7 155.1,365.7 156.2,356.1 157.6,341.4 158.7,333.8 159.9,340.0 161.1,351.7 162.4,362.0 163.9,368.6 165.3,365.7 166.8,357.6 168.0,347.3 169.3,341.4 170.5,348.8 172.0,359.1 173.4,366.4 174.6,363.5 175.6,358.3 176.8,357.6 177.9,356.9 179.1,363.5 180.6,367.1 182.0,362.0 183.5,353.2 185.0,344.4 186.5,338.5 187.5,337.0 188.2,342.2 189.2,337.0 190.0,344.4 191.2,356.1 192.6,363.5 194.1,368.6 195.6,364.2 197.0,359.1 198.2,351.7 199.2,353.9 200.3,351.7 201.4,344.4 202.9,334.1 204.1,327.5 205.4,331.2 206.6,341.4 207.6,351.7 208.8,362.0 210.2,368.6 212.4,369.6 214.6,368.6 215.8,359.1 216.9,344.4 217.6,335.6 218.3,343.6 219.1,334.8 220.5,332.6 222.0,327.0 223.5,322.6 224.9,320.5 226.4,311.1 227.4,318.5 228.6,324.4 230.1,328.1 231.2,329.7 231.9,321.4 232.6,306.7 233.7,295.0 235.2,287.6 236.7,292.0 238.1,306.7 239.2,318.0 240.3,337.0 241.4,356.1 242.3,368.6 243.0,369.3" fill="none" stroke="#e61212" stroke-width="1.3" stroke-linejoin="round"/>
<rect x="111.9" y="266.6" width="16.1" height="102" fill="#d34d4f" fill-opacity="0.5"/>
<rect x="175.5" y="266.7" width="19.7" height="102" fill="#2fb96d" fill-opacity="0.5"/>
<rect x="222" y="264.3" width="9.4" height="102.4" fill="#6d9bd5" fill-opacity="0.5"/>
<line x1="48.1" y1="217.8" x2="72" y2="217.8" stroke="#0a0a0a" stroke-width="1.3"/>
<line x1="48.1" y1="229.4" x2="70.2" y2="229.4" stroke="#e61212" stroke-width="1.3"/>
<text x="71.6" y="220.5" font-size="9" font-weight="bold" fill="#0a0a0a" textLength="73" lengthAdjust="spacingAndGlyphs">Plasma(control)</text>
<text x="74.1" y="232.6" font-size="9" font-weight="bold" fill="#0a0a0a" textLength="99.5" lengthAdjust="spacingAndGlyphs">HIV-1 infected Plasma</text>
<text transform="translate(28.1,329.6) rotate(-90)" font-size="12" font-weight="bold" fill="#0a0a0a" textLength="83.5" lengthAdjust="spacingAndGlyphs">Intensity(a.u.)</text>
<text x="92.1" y="397.5" font-size="12.3" font-weight="bold" fill="#0a0a0a">Wavenumber(cm<tspan font-size="7.5" dy="-5.5">-1</tspan><tspan dy="5.5">)</tspan></text>
<text x="18.6" y="216.2" font-size="13.6" fill="#0a0a0a">(c)</text>
</g>
<g id="panel-d">
<rect x="300.5" y="208.2" width="233.6" height="164" fill="#f0f0f0" stroke="#111" stroke-width="1.4"/>
<ellipse cx="409.3" cy="226" rx="33.4" ry="16.9" fill="#d4dfc6" stroke="#8fd6a4" stroke-width="0.9"/>
<ellipse cx="496.6" cy="305.5" rx="31.2" ry="53.2" transform="rotate(-14.3 496.6 305.5)" fill="#f4afaf" stroke="#d66a6a" stroke-width="0.9"/>
<line x1="300.5" y1="290.5" x2="534.1" y2="290.5" stroke="#111" stroke-width="1.3"/>
<line x1="417.4" y1="208.2" x2="417.4" y2="372.2" stroke="#111" stroke-width="1.3"/>
<circle cx="383.5" cy="221.8" r="3.1" fill="#2a7a2f"/>
<circle cx="390.6" cy="223.6" r="3.1" fill="#2a7a2f"/>
<circle cx="395" cy="221.4" r="3.1" fill="#2a7a2f"/>
<circle cx="397.2" cy="218.4" r="3.1" fill="#2a7a2f"/>
<circle cx="400.1" cy="219.2" r="3.1" fill="#2a7a2f"/>
<circle cx="403" cy="218.4" r="3.1" fill="#2a7a2f"/>
<circle cx="406.7" cy="217" r="3.1" fill="#2a7a2f"/>
<circle cx="406" cy="229.1" r="3.1" fill="#2a7a2f"/>
<circle cx="412.6" cy="220.9" r="3.1" fill="#2a7a2f"/>
<circle cx="414.8" cy="217.7" r="3.1" fill="#2a7a2f"/>
<circle cx="419.9" cy="217" r="3.1" fill="#2a7a2f"/>
<circle cx="422.1" cy="219.9" r="3.1" fill="#2a7a2f"/>
<circle cx="425.1" cy="217.7" r="3.1" fill="#2a7a2f"/>
<circle cx="423.6" cy="222.8" r="3.1" fill="#2a7a2f"/>
<circle cx="483.6" cy="261.4" r="3.15" fill="#cf1212"/>
<circle cx="493.9" cy="268.5" r="3.15" fill="#cf1212"/>
<circle cx="494.6" cy="278" r="3.15" fill="#cf1212"/>
<circle cx="491.7" cy="281.7" r="3.15" fill="#cf1212"/>
<circle cx="509.6" cy="279.5" r="3.15" fill="#cf1212"/>
<circle cx="505.7" cy="281.7" r="3.15" fill="#cf1212"/>
<circle cx="504.2" cy="285.4" r="3.15" fill="#cf1212"/>
<circle cx="498.3" cy="284.6" r="3.15" fill="#cf1212"/>
<circle cx="493.9" cy="287.6" r="3.15" fill="#cf1212"/>
<circle cx="499.1" cy="288.3" r="3.15" fill="#cf1212"/>
<circle cx="503.5" cy="289.1" r="3.15" fill="#cf1212"/>
<circle cx="496.1" cy="291.3" r="3.15" fill="#cf1212"/>
<circle cx="500.5" cy="292" r="3.15" fill="#cf1212"/>
<circle cx="504.9" cy="292.7" r="3.15" fill="#cf1212"/>
<circle cx="508.6" cy="293.5" r="3.15" fill="#cf1212"/>
<circle cx="499.1" cy="295.7" r="3.15" fill="#cf1212"/>
<circle cx="503.5" cy="296.4" r="3.15" fill="#cf1212"/>
<circle cx="507.9" cy="295.7" r="3.15" fill="#cf1212"/>
<circle cx="497.6" cy="300.1" r="3.15" fill="#cf1212"/>
<circle cx="501.3" cy="300.8" r="3.15" fill="#cf1212"/>
<circle cx="515.9" cy="301.5" r="3.15" fill="#cf1212"/>
<circle cx="518.9" cy="306.7" r="3.15" fill="#cf1212"/>
<circle cx="517.4" cy="309.7" r="3.15" fill="#cf1212"/>
<circle cx="515.9" cy="311.9" r="3.15" fill="#cf1212"/>
<circle cx="513.7" cy="314.8" r="3.15" fill="#cf1212"/>
<circle cx="502.7" cy="312.9" r="3.15" fill="#cf1212"/>
<circle cx="513" cy="317.8" r="3.15" fill="#cf1212"/>
<circle cx="510.1" cy="320" r="3.15" fill="#cf1212"/>
<circle cx="508.6" cy="322.2" r="3.15" fill="#cf1212"/>
<circle cx="505.7" cy="327.3" r="3.15" fill="#cf1212"/>
<circle cx="506" cy="268.2" r="3.15" fill="#4f5a2a"/>
<circle cx="476.7" cy="311.4" r="3.15" fill="#4f5a2a"/>
<circle cx="503.2" cy="331.4" r="3.15" fill="#4f5a2a"/>
<line x1="296" y1="216.9" x2="300.5" y2="216.9" stroke="#111" stroke-width="1"/>
<text x="295" y="219.5" font-size="7" font-weight="bold" fill="#111" text-anchor="end">1.0</text>
<line x1="296" y1="253.7" x2="300.5" y2="253.7" stroke="#111" stroke-width="1"/>
<text x="295" y="256.3" font-size="7" font-weight="bold" fill="#111" text-anchor="end">0.5</text>
<line x1="296" y1="290.6" x2="300.5" y2="290.6" stroke="#111" stroke-width="1"/>
<text x="295" y="293.2" font-size="7" font-weight="bold" fill="#111" text-anchor="end">0.0</text>
<line x1="296" y1="327.5" x2="300.5" y2="327.5" stroke="#111" stroke-width="1"/>
<text x="295" y="330.1" font-size="7" font-weight="bold" fill="#111" text-anchor="end">-0.5</text>
<line x1="296" y1="364.5" x2="300.5" y2="364.5" stroke="#111" stroke-width="1"/>
<text x="295" y="367.1" font-size="7" font-weight="bold" fill="#111" text-anchor="end">-1.0</text>
<line x1="312" y1="372.2" x2="312" y2="375.8" stroke="#111" stroke-width="1"/>
<text x="312" y="383.4" font-size="7.3" font-weight="bold" fill="#111" text-anchor="middle">-1.0</text>
<line x1="364.8" y1="372.2" x2="364.8" y2="375.8" stroke="#111" stroke-width="1"/>
<text x="364.8" y="383.4" font-size="7.3" font-weight="bold" fill="#111" text-anchor="middle">-0.5</text>
<line x1="417.3" y1="372.2" x2="417.3" y2="375.8" stroke="#111" stroke-width="1"/>
<text x="417.3" y="383.4" font-size="7.3" font-weight="bold" fill="#111" text-anchor="middle">0.0</text>
<line x1="469.9" y1="372.2" x2="469.9" y2="375.8" stroke="#111" stroke-width="1"/>
<text x="469.9" y="383.4" font-size="7.3" font-weight="bold" fill="#111" text-anchor="middle">0.5</text>
<line x1="522.4" y1="372.2" x2="522.4" y2="375.8" stroke="#111" stroke-width="1"/>
<text x="522.4" y="383.4" font-size="7.3" font-weight="bold" fill="#111" text-anchor="middle">1.0</text>
<circle cx="307.5" cy="224" r="2.1" fill="#1e6a30"/>
<circle cx="307.7" cy="236.5" r="2.5" fill="#c21b1b"/>
<text x="316.1" y="226.5" font-size="8.2" font-weight="bold" fill="#111" textLength="47.5" lengthAdjust="spacingAndGlyphs">HIV Negative</text>
<text x="315.6" y="237.6" font-size="8.2" font-weight="bold" fill="#111" textLength="43.3" lengthAdjust="spacingAndGlyphs">HIV Positive</text>
<text transform="translate(278.3,317.1) rotate(-90)" font-size="7.5" font-weight="bold" fill="#111" textLength="47.3" lengthAdjust="spacingAndGlyphs">Component 2</text>
<text x="390.8" y="395.3" font-size="8.3" font-weight="bold" fill="#111" textLength="52.9" lengthAdjust="spacingAndGlyphs">Component 1</text>
<text x="266.8" y="216" font-size="14.2" fill="#0a0a0a">(d)</text>
</g>
</svg></body></html>
